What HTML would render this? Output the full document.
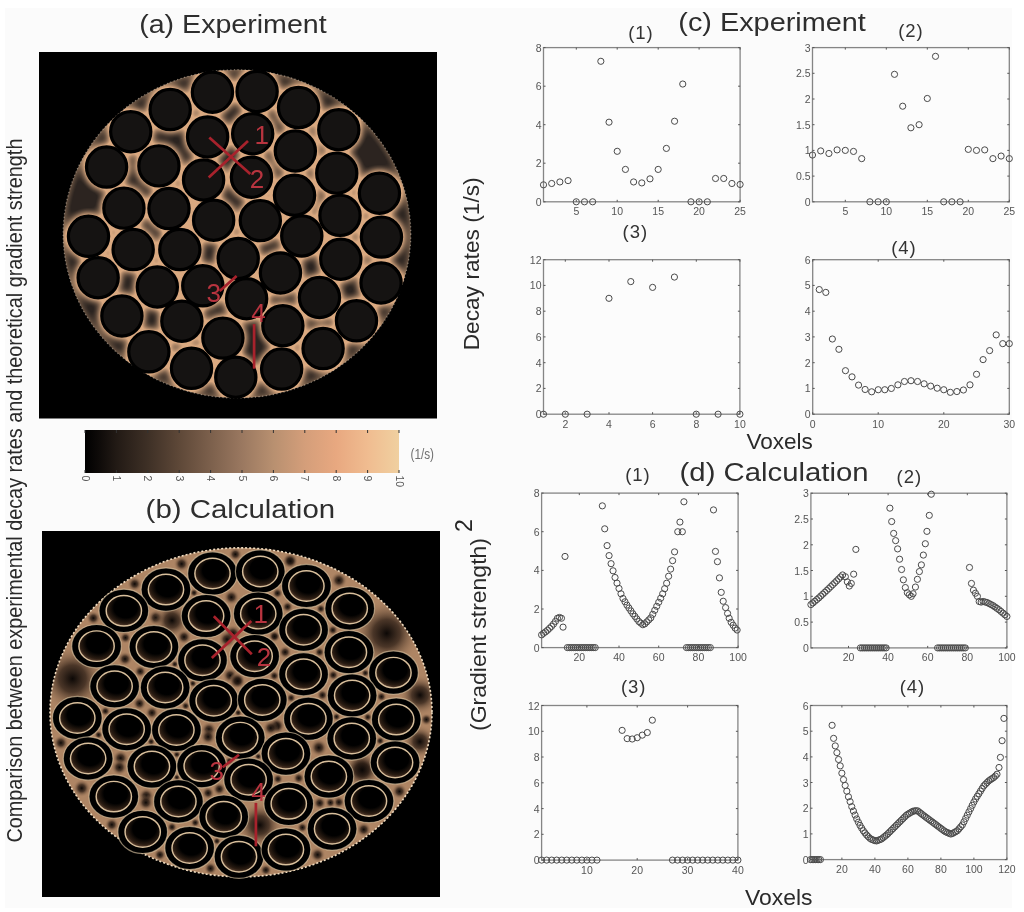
<!DOCTYPE html><html><head><meta charset="utf-8"><style>html,body{margin:0;padding:0;background:#ffffff;width:1024px;height:912px;overflow:hidden}svg{display:block}</style></head><body>
<svg width="1024" height="912" viewBox="0 0 1024 912" font-family="'Liberation Sans', Arial, sans-serif">
<defs>
<linearGradient id="cbar" x1="0" x2="1" y1="0" y2="0">
<stop offset="0" stop-color="#000000"/>
<stop offset="0.05" stop-color="#100c0a"/>
<stop offset="0.1" stop-color="#221a15"/>
<stop offset="0.2" stop-color="#3e3026"/>
<stop offset="0.3" stop-color="#5e4838"/>
<stop offset="0.4" stop-color="#7c604c"/>
<stop offset="0.5" stop-color="#9a7860"/>
<stop offset="0.6" stop-color="#b89070"/>
<stop offset="0.7" stop-color="#d49e7a"/>
<stop offset="0.8" stop-color="#e8a880"/>
<stop offset="0.9" stop-color="#f0bc90"/>
<stop offset="1" stop-color="#f0d0a0"/>
</linearGradient>
<clipPath id="clipA"><ellipse cx="492" cy="452" rx="432" ry="408"/></clipPath>
<clipPath id="clipB"><ellipse cx="496" cy="452" rx="476" ry="410"/></clipPath>
<radialGradient id="innerB" cx="0.55" cy="0.4" r="0.6"><stop offset="0.55" stop-color="#000"/><stop offset="0.85" stop-color="#2a1c12"/><stop offset="1" stop-color="#5a4030"/></radialGradient>
<radialGradient id="spotA"><stop offset="0" stop-color="#1e1a1a" stop-opacity="1"/><stop offset="0.35" stop-color="#3a2a22" stop-opacity="0.85"/><stop offset="1" stop-color="#e2b48a" stop-opacity="0"/></radialGradient>
<radialGradient id="spotB"><stop offset="0" stop-color="#0c0806" stop-opacity="1"/><stop offset="0.4" stop-color="#2a1c14" stop-opacity="0.75"/><stop offset="1" stop-color="#ae8564" stop-opacity="0"/></radialGradient>
<filter id="glowA" x="-5%" y="-5%" width="110%" height="110%" color-interpolation-filters="sRGB"><feGaussianBlur stdDeviation="12"/><feComponentTransfer><feFuncA type="linear" slope="2.2" intercept="-0.1"/></feComponentTransfer></filter>
<filter id="glowB" x="-5%" y="-5%" width="110%" height="110%" color-interpolation-filters="sRGB"><feGaussianBlur stdDeviation="12"/><feComponentTransfer><feFuncA type="linear" slope="2.3" intercept="-0.08"/></feComponentTransfer></filter>
</defs>
<rect width="1024" height="912" fill="#ffffff"/>
<rect x="5" y="8" width="1007" height="900" fill="#fbfbfb"/>
<rect x="39" y="52" width="398" height="366.5" fill="#000"/>
<g transform="translate(39,52) scale(0.40241)">
<ellipse cx="492" cy="452" rx="432" ry="408" fill="#2c2420"/>
<g clip-path="url(#clipA)"><g filter="url(#glowA)">
<ellipse cx="492" cy="452" rx="452" ry="428" fill="none" stroke="#daa980" stroke-width="40" opacity="0.4"/>
<circle cx="431" cy="100" r="54" fill="#daa980"/>
<circle cx="542" cy="98" r="54" fill="#daa980"/>
<circle cx="326" cy="143" r="54" fill="#daa980"/>
<circle cx="645" cy="138" r="54" fill="#daa980"/>
<circle cx="228" cy="198" r="54" fill="#daa980"/>
<circle cx="745" cy="193" r="54" fill="#daa980"/>
<circle cx="419" cy="211" r="54" fill="#daa980"/>
<circle cx="531" cy="203" r="54" fill="#daa980"/>
<circle cx="168" cy="286" r="54" fill="#daa980"/>
<circle cx="298" cy="283" r="54" fill="#daa980"/>
<circle cx="637" cy="246" r="54" fill="#daa980"/>
<circle cx="409" cy="318" r="54" fill="#daa980"/>
<circle cx="528" cy="311" r="54" fill="#daa980"/>
<circle cx="740" cy="301" r="54" fill="#daa980"/>
<circle cx="846" cy="351" r="54" fill="#daa980"/>
<circle cx="211" cy="388" r="54" fill="#daa980"/>
<circle cx="323" cy="389" r="54" fill="#daa980"/>
<circle cx="635" cy="356" r="54" fill="#daa980"/>
<circle cx="434" cy="418" r="54" fill="#daa980"/>
<circle cx="550" cy="419" r="54" fill="#daa980"/>
<circle cx="748" cy="406" r="54" fill="#daa980"/>
<circle cx="123" cy="458" r="54" fill="#daa980"/>
<circle cx="234" cy="491" r="54" fill="#daa980"/>
<circle cx="350" cy="491" r="54" fill="#daa980"/>
<circle cx="653" cy="457" r="54" fill="#daa980"/>
<circle cx="851" cy="460" r="54" fill="#daa980"/>
<circle cx="495" cy="513" r="54" fill="#daa980"/>
<circle cx="147" cy="561" r="54" fill="#daa980"/>
<circle cx="294" cy="584" r="54" fill="#daa980"/>
<circle cx="407" cy="581" r="54" fill="#daa980"/>
<circle cx="600" cy="549" r="54" fill="#daa980"/>
<circle cx="750" cy="515" r="54" fill="#daa980"/>
<circle cx="850" cy="574" r="54" fill="#daa980"/>
<circle cx="516" cy="613" r="54" fill="#daa980"/>
<circle cx="206" cy="656" r="54" fill="#daa980"/>
<circle cx="355" cy="669" r="54" fill="#daa980"/>
<circle cx="697" cy="610" r="54" fill="#daa980"/>
<circle cx="457" cy="711" r="54" fill="#daa980"/>
<circle cx="606" cy="680" r="54" fill="#daa980"/>
<circle cx="789" cy="668" r="54" fill="#daa980"/>
<circle cx="273" cy="745" r="54" fill="#daa980"/>
<circle cx="379" cy="786" r="54" fill="#daa980"/>
<circle cx="489" cy="808" r="54" fill="#daa980"/>
<circle cx="603" cy="788" r="54" fill="#daa980"/>
<circle cx="706" cy="737" r="54" fill="#daa980"/>
</g></g>
<ellipse cx="492" cy="452" rx="432" ry="408" fill="none" stroke="#f4e4d0" stroke-width="3" stroke-dasharray="3 6" opacity="0.45"/>
<circle cx="431" cy="100" r="50" fill="#151312" stroke="#000" stroke-width="8"/>
<circle cx="542" cy="98" r="50" fill="#151312" stroke="#000" stroke-width="8"/>
<circle cx="326" cy="143" r="50" fill="#151312" stroke="#000" stroke-width="8"/>
<circle cx="645" cy="138" r="50" fill="#151312" stroke="#000" stroke-width="8"/>
<circle cx="228" cy="198" r="50" fill="#151312" stroke="#000" stroke-width="8"/>
<circle cx="745" cy="193" r="50" fill="#151312" stroke="#000" stroke-width="8"/>
<circle cx="419" cy="211" r="50" fill="#151312" stroke="#000" stroke-width="8"/>
<circle cx="531" cy="203" r="50" fill="#151312" stroke="#000" stroke-width="8"/>
<circle cx="168" cy="286" r="50" fill="#151312" stroke="#000" stroke-width="8"/>
<circle cx="298" cy="283" r="50" fill="#151312" stroke="#000" stroke-width="8"/>
<circle cx="637" cy="246" r="50" fill="#151312" stroke="#000" stroke-width="8"/>
<circle cx="409" cy="318" r="50" fill="#151312" stroke="#000" stroke-width="8"/>
<circle cx="528" cy="311" r="50" fill="#151312" stroke="#000" stroke-width="8"/>
<circle cx="740" cy="301" r="50" fill="#151312" stroke="#000" stroke-width="8"/>
<circle cx="846" cy="351" r="50" fill="#151312" stroke="#000" stroke-width="8"/>
<circle cx="211" cy="388" r="50" fill="#151312" stroke="#000" stroke-width="8"/>
<circle cx="323" cy="389" r="50" fill="#151312" stroke="#000" stroke-width="8"/>
<circle cx="635" cy="356" r="50" fill="#151312" stroke="#000" stroke-width="8"/>
<circle cx="434" cy="418" r="50" fill="#151312" stroke="#000" stroke-width="8"/>
<circle cx="550" cy="419" r="50" fill="#151312" stroke="#000" stroke-width="8"/>
<circle cx="748" cy="406" r="50" fill="#151312" stroke="#000" stroke-width="8"/>
<circle cx="123" cy="458" r="50" fill="#151312" stroke="#000" stroke-width="8"/>
<circle cx="234" cy="491" r="50" fill="#151312" stroke="#000" stroke-width="8"/>
<circle cx="350" cy="491" r="50" fill="#151312" stroke="#000" stroke-width="8"/>
<circle cx="653" cy="457" r="50" fill="#151312" stroke="#000" stroke-width="8"/>
<circle cx="851" cy="460" r="50" fill="#151312" stroke="#000" stroke-width="8"/>
<circle cx="495" cy="513" r="50" fill="#151312" stroke="#000" stroke-width="8"/>
<circle cx="147" cy="561" r="50" fill="#151312" stroke="#000" stroke-width="8"/>
<circle cx="294" cy="584" r="50" fill="#151312" stroke="#000" stroke-width="8"/>
<circle cx="407" cy="581" r="50" fill="#151312" stroke="#000" stroke-width="8"/>
<circle cx="600" cy="549" r="50" fill="#151312" stroke="#000" stroke-width="8"/>
<circle cx="750" cy="515" r="50" fill="#151312" stroke="#000" stroke-width="8"/>
<circle cx="850" cy="574" r="50" fill="#151312" stroke="#000" stroke-width="8"/>
<circle cx="516" cy="613" r="50" fill="#151312" stroke="#000" stroke-width="8"/>
<circle cx="206" cy="656" r="50" fill="#151312" stroke="#000" stroke-width="8"/>
<circle cx="355" cy="669" r="50" fill="#151312" stroke="#000" stroke-width="8"/>
<circle cx="697" cy="610" r="50" fill="#151312" stroke="#000" stroke-width="8"/>
<circle cx="457" cy="711" r="50" fill="#151312" stroke="#000" stroke-width="8"/>
<circle cx="606" cy="680" r="50" fill="#151312" stroke="#000" stroke-width="8"/>
<circle cx="789" cy="668" r="50" fill="#151312" stroke="#000" stroke-width="8"/>
<circle cx="273" cy="745" r="50" fill="#151312" stroke="#000" stroke-width="8"/>
<circle cx="379" cy="786" r="50" fill="#151312" stroke="#000" stroke-width="8"/>
<circle cx="489" cy="808" r="50" fill="#151312" stroke="#000" stroke-width="8"/>
<circle cx="603" cy="788" r="50" fill="#151312" stroke="#000" stroke-width="8"/>
<circle cx="706" cy="737" r="50" fill="#151312" stroke="#000" stroke-width="8"/>
</g>
<rect x="42" y="531" width="398" height="366" fill="#000"/>
<g transform="translate(42,531) scale(0.40121)">
<ellipse cx="496" cy="452" rx="476" ry="410" fill="#ae8564"/>
<g clip-path="url(#clipB)">
<circle cx="482" cy="58" r="17.4" fill="url(#spotB)"/>
<circle cx="618" cy="74" r="19.1" fill="url(#spotB)"/>
<circle cx="619" cy="75" r="19.1" fill="url(#spotB)"/>
<circle cx="348" cy="82" r="20.1" fill="url(#spotB)"/>
<circle cx="740" cy="123" r="21.2" fill="url(#spotB)"/>
<circle cx="231" cy="132" r="18.7" fill="url(#spotB)"/>
<circle cx="379" cy="154" r="11.1" fill="url(#spotB)"/>
<circle cx="587" cy="155" r="14.3" fill="url(#spotB)"/>
<circle cx="472" cy="165" r="20.0" fill="url(#spotB)"/>
<circle cx="612" cy="189" r="14.7" fill="url(#spotB)"/>
<circle cx="695" cy="194" r="12.7" fill="url(#spotB)"/>
<circle cx="284" cy="216" r="20.7" fill="url(#spotB)"/>
<circle cx="128" cy="217" r="18.1" fill="url(#spotB)"/>
<circle cx="324" cy="223" r="45.0" fill="url(#spotB)"/>
<circle cx="725" cy="247" r="13.5" fill="url(#spotB)"/>
<circle cx="476" cy="255" r="21.5" fill="url(#spotB)"/>
<circle cx="859" cy="255" r="85.2" fill="url(#spotB)"/>
<circle cx="579" cy="262" r="14.3" fill="url(#spotB)"/>
<circle cx="580" cy="263" r="14.3" fill="url(#spotB)"/>
<circle cx="354" cy="264" r="18.7" fill="url(#spotB)"/>
<circle cx="208" cy="266" r="15.2" fill="url(#spotB)"/>
<circle cx="461" cy="270" r="21.7" fill="url(#spotB)"/>
<circle cx="606" cy="302" r="16.5" fill="url(#spotB)"/>
<circle cx="692" cy="302" r="13.5" fill="url(#spotB)"/>
<circle cx="207" cy="319" r="18.7" fill="url(#spotB)"/>
<circle cx="331" cy="332" r="10.3" fill="url(#spotB)"/>
<circle cx="245" cy="350" r="15.8" fill="url(#spotB)"/>
<circle cx="806" cy="354" r="11.1" fill="url(#spotB)"/>
<circle cx="726" cy="359" r="14.0" fill="url(#spotB)"/>
<circle cx="469" cy="360" r="20.0" fill="url(#spotB)"/>
<circle cx="579" cy="361" r="13.5" fill="url(#spotB)"/>
<circle cx="76" cy="368" r="84.4" fill="url(#spotB)"/>
<circle cx="485" cy="372" r="19.5" fill="url(#spotB)"/>
<circle cx="486" cy="373" r="19.5" fill="url(#spotB)"/>
<circle cx="488" cy="374" r="19.5" fill="url(#spotB)"/>
<circle cx="376" cy="380" r="10.3" fill="url(#spotB)"/>
<circle cx="699" cy="409" r="14.7" fill="url(#spotB)"/>
<circle cx="942" cy="409" r="51.6" fill="url(#spotB)"/>
<circle cx="846" cy="413" r="13.5" fill="url(#spotB)"/>
<circle cx="621" cy="416" r="12.7" fill="url(#spotB)"/>
<circle cx="243" cy="430" r="17.5" fill="url(#spotB)"/>
<circle cx="358" cy="436" r="11.5" fill="url(#spotB)"/>
<circle cx="158" cy="449" r="12.7" fill="url(#spotB)"/>
<circle cx="274" cy="453" r="17.1" fill="url(#spotB)"/>
<circle cx="489" cy="453" r="10.3" fill="url(#spotB)"/>
<circle cx="734" cy="463" r="11.1" fill="url(#spotB)"/>
<circle cx="812" cy="464" r="12.0" fill="url(#spotB)"/>
<circle cx="958" cy="470" r="15.6" fill="url(#spotB)"/>
<circle cx="586" cy="485" r="19.5" fill="url(#spotB)"/>
<circle cx="584" cy="486" r="19.5" fill="url(#spotB)"/>
<circle cx="570" cy="491" r="19.8" fill="url(#spotB)"/>
<circle cx="416" cy="495" r="20.1" fill="url(#spotB)"/>
<circle cx="141" cy="508" r="11.3" fill="url(#spotB)"/>
<circle cx="414" cy="513" r="20.1" fill="url(#spotB)"/>
<circle cx="843" cy="523" r="11.5" fill="url(#spotB)"/>
<circle cx="272" cy="525" r="10.7" fill="url(#spotB)"/>
<circle cx="942" cy="525" r="42.0" fill="url(#spotB)"/>
<circle cx="47" cy="528" r="19.5" fill="url(#spotB)"/>
<circle cx="690" cy="540" r="22.4" fill="url(#spotB)"/>
<circle cx="336" cy="557" r="10.2" fill="url(#spotB)"/>
<circle cx="539" cy="562" r="10.0" fill="url(#spotB)"/>
<circle cx="196" cy="566" r="20.5" fill="url(#spotB)"/>
<circle cx="467" cy="573" r="11.0" fill="url(#spotB)"/>
<circle cx="193" cy="589" r="20.9" fill="url(#spotB)"/>
<circle cx="797" cy="592" r="43.3" fill="url(#spotB)"/>
<circle cx="798" cy="596" r="43.3" fill="url(#spotB)"/>
<circle cx="336" cy="614" r="9.3" fill="url(#spotB)"/>
<circle cx="640" cy="616" r="15.1" fill="url(#spotB)"/>
<circle cx="588" cy="618" r="13.5" fill="url(#spotB)"/>
<circle cx="99" cy="641" r="22.4" fill="url(#spotB)"/>
<circle cx="442" cy="643" r="17.0" fill="url(#spotB)"/>
<circle cx="891" cy="649" r="19.8" fill="url(#spotB)"/>
<circle cx="414" cy="653" r="16.3" fill="url(#spotB)"/>
<circle cx="260" cy="660" r="20.7" fill="url(#spotB)"/>
<circle cx="740" cy="676" r="15.5" fill="url(#spotB)"/>
<circle cx="259" cy="677" r="20.9" fill="url(#spotB)"/>
<circle cx="719" cy="677" r="13.8" fill="url(#spotB)"/>
<circle cx="692" cy="678" r="16.8" fill="url(#spotB)"/>
<circle cx="382" cy="727" r="12.4" fill="url(#spotB)"/>
<circle cx="174" cy="732" r="18.3" fill="url(#spotB)"/>
<circle cx="543" cy="733" r="57.9" fill="url(#spotB)"/>
<circle cx="324" cy="738" r="13.3" fill="url(#spotB)"/>
<circle cx="649" cy="739" r="14.0" fill="url(#spotB)"/>
<circle cx="802" cy="744" r="19.0" fill="url(#spotB)"/>
<circle cx="436" cy="773" r="10.6" fill="url(#spotB)"/>
<circle cx="294" cy="807" r="16.1" fill="url(#spotB)"/>
<circle cx="687" cy="807" r="19.6" fill="url(#spotB)"/>
<circle cx="420" cy="841" r="16.7" fill="url(#spotB)"/>
<circle cx="558" cy="845" r="15.5" fill="url(#spotB)"/>
</g>
<ellipse cx="496" cy="452" rx="476" ry="410" fill="none" stroke="#f0dcc0" stroke-width="4" stroke-dasharray="5 5"/>
<ellipse cx="425" cy="106" rx="62" ry="54" fill="#000" stroke="#e8d0ac" stroke-width="3" stroke-opacity="0.6"/>
<ellipse cx="544" cy="101" rx="62" ry="54" fill="#000" stroke="#e8d0ac" stroke-width="3" stroke-opacity="0.6"/>
<ellipse cx="309" cy="146" rx="62" ry="54" fill="#000" stroke="#e8d0ac" stroke-width="3" stroke-opacity="0.6"/>
<ellipse cx="659" cy="137" rx="62" ry="54" fill="#000" stroke="#e8d0ac" stroke-width="3" stroke-opacity="0.6"/>
<ellipse cx="204" cy="199" rx="62" ry="54" fill="#000" stroke="#e8d0ac" stroke-width="3" stroke-opacity="0.6"/>
<ellipse cx="767" cy="193" rx="62" ry="54" fill="#000" stroke="#e8d0ac" stroke-width="3" stroke-opacity="0.6"/>
<ellipse cx="409" cy="212" rx="62" ry="54" fill="#000" stroke="#e8d0ac" stroke-width="3" stroke-opacity="0.6"/>
<ellipse cx="539" cy="206" rx="62" ry="54" fill="#000" stroke="#e8d0ac" stroke-width="3" stroke-opacity="0.6"/>
<ellipse cx="136" cy="287" rx="62" ry="54" fill="#000" stroke="#e8d0ac" stroke-width="3" stroke-opacity="0.6"/>
<ellipse cx="279" cy="289" rx="62" ry="54" fill="#000" stroke="#e8d0ac" stroke-width="3" stroke-opacity="0.6"/>
<ellipse cx="652" cy="246" rx="62" ry="54" fill="#000" stroke="#e8d0ac" stroke-width="3" stroke-opacity="0.6"/>
<ellipse cx="400" cy="322" rx="62" ry="54" fill="#000" stroke="#e8d0ac" stroke-width="3" stroke-opacity="0.6"/>
<ellipse cx="530" cy="312" rx="62" ry="54" fill="#000" stroke="#e8d0ac" stroke-width="3" stroke-opacity="0.6"/>
<ellipse cx="765" cy="302" rx="62" ry="54" fill="#000" stroke="#e8d0ac" stroke-width="3" stroke-opacity="0.6"/>
<ellipse cx="876" cy="353" rx="62" ry="54" fill="#000" stroke="#e8d0ac" stroke-width="3" stroke-opacity="0.6"/>
<ellipse cx="181" cy="387" rx="62" ry="54" fill="#000" stroke="#e8d0ac" stroke-width="3" stroke-opacity="0.6"/>
<ellipse cx="307" cy="390" rx="62" ry="54" fill="#000" stroke="#e8d0ac" stroke-width="3" stroke-opacity="0.6"/>
<ellipse cx="652" cy="357" rx="62" ry="54" fill="#000" stroke="#e8d0ac" stroke-width="3" stroke-opacity="0.6"/>
<ellipse cx="428" cy="423" rx="62" ry="54" fill="#000" stroke="#e8d0ac" stroke-width="3" stroke-opacity="0.6"/>
<ellipse cx="549" cy="421" rx="62" ry="54" fill="#000" stroke="#e8d0ac" stroke-width="3" stroke-opacity="0.6"/>
<ellipse cx="773" cy="410" rx="62" ry="54" fill="#000" stroke="#e8d0ac" stroke-width="3" stroke-opacity="0.6"/>
<ellipse cx="88" cy="466" rx="62" ry="54" fill="#000" stroke="#e8d0ac" stroke-width="3" stroke-opacity="0.6"/>
<ellipse cx="211" cy="494" rx="62" ry="54" fill="#000" stroke="#e8d0ac" stroke-width="3" stroke-opacity="0.6"/>
<ellipse cx="335" cy="496" rx="62" ry="54" fill="#000" stroke="#e8d0ac" stroke-width="3" stroke-opacity="0.6"/>
<ellipse cx="664" cy="468" rx="62" ry="54" fill="#000" stroke="#e8d0ac" stroke-width="3" stroke-opacity="0.6"/>
<ellipse cx="883" cy="470" rx="62" ry="54" fill="#000" stroke="#e8d0ac" stroke-width="3" stroke-opacity="0.6"/>
<ellipse cx="494" cy="515" rx="62" ry="54" fill="#000" stroke="#e8d0ac" stroke-width="3" stroke-opacity="0.6"/>
<ellipse cx="115" cy="567" rx="62" ry="54" fill="#000" stroke="#e8d0ac" stroke-width="3" stroke-opacity="0.6"/>
<ellipse cx="274" cy="587" rx="62" ry="54" fill="#000" stroke="#e8d0ac" stroke-width="3" stroke-opacity="0.6"/>
<ellipse cx="398" cy="586" rx="62" ry="54" fill="#000" stroke="#e8d0ac" stroke-width="3" stroke-opacity="0.6"/>
<ellipse cx="608" cy="555" rx="62" ry="54" fill="#000" stroke="#e8d0ac" stroke-width="3" stroke-opacity="0.6"/>
<ellipse cx="772" cy="517" rx="62" ry="54" fill="#000" stroke="#e8d0ac" stroke-width="3" stroke-opacity="0.6"/>
<ellipse cx="880" cy="577" rx="62" ry="54" fill="#000" stroke="#e8d0ac" stroke-width="3" stroke-opacity="0.6"/>
<ellipse cx="515" cy="620" rx="62" ry="54" fill="#000" stroke="#e8d0ac" stroke-width="3" stroke-opacity="0.6"/>
<ellipse cx="179" cy="662" rx="62" ry="54" fill="#000" stroke="#e8d0ac" stroke-width="3" stroke-opacity="0.6"/>
<ellipse cx="340" cy="674" rx="62" ry="54" fill="#000" stroke="#e8d0ac" stroke-width="3" stroke-opacity="0.6"/>
<ellipse cx="715" cy="612" rx="62" ry="54" fill="#000" stroke="#e8d0ac" stroke-width="3" stroke-opacity="0.6"/>
<ellipse cx="453" cy="712" rx="62" ry="54" fill="#000" stroke="#e8d0ac" stroke-width="3" stroke-opacity="0.6"/>
<ellipse cx="615" cy="680" rx="62" ry="54" fill="#000" stroke="#e8d0ac" stroke-width="3" stroke-opacity="0.6"/>
<ellipse cx="815" cy="673" rx="62" ry="54" fill="#000" stroke="#e8d0ac" stroke-width="3" stroke-opacity="0.6"/>
<ellipse cx="251" cy="750" rx="62" ry="54" fill="#000" stroke="#e8d0ac" stroke-width="3" stroke-opacity="0.6"/>
<ellipse cx="368" cy="790" rx="62" ry="54" fill="#000" stroke="#e8d0ac" stroke-width="3" stroke-opacity="0.6"/>
<ellipse cx="491" cy="812" rx="62" ry="54" fill="#000" stroke="#e8d0ac" stroke-width="3" stroke-opacity="0.6"/>
<ellipse cx="608" cy="794" rx="62" ry="54" fill="#000" stroke="#e8d0ac" stroke-width="3" stroke-opacity="0.6"/>
<ellipse cx="723" cy="742" rx="62" ry="54" fill="#000" stroke="#e8d0ac" stroke-width="3" stroke-opacity="0.6"/>
<ellipse cx="425" cy="106" rx="44" ry="38" fill="url(#innerB)" stroke="#d8bf9c" stroke-width="3.6"/>
<ellipse cx="544" cy="101" rx="44" ry="38" fill="url(#innerB)" stroke="#d8bf9c" stroke-width="3.6"/>
<ellipse cx="309" cy="146" rx="44" ry="38" fill="url(#innerB)" stroke="#d8bf9c" stroke-width="3.6"/>
<ellipse cx="659" cy="137" rx="44" ry="38" fill="url(#innerB)" stroke="#d8bf9c" stroke-width="3.6"/>
<ellipse cx="204" cy="199" rx="44" ry="38" fill="url(#innerB)" stroke="#d8bf9c" stroke-width="3.6"/>
<ellipse cx="767" cy="193" rx="44" ry="38" fill="url(#innerB)" stroke="#d8bf9c" stroke-width="3.6"/>
<ellipse cx="409" cy="212" rx="44" ry="38" fill="url(#innerB)" stroke="#d8bf9c" stroke-width="3.6"/>
<ellipse cx="539" cy="206" rx="44" ry="38" fill="url(#innerB)" stroke="#d8bf9c" stroke-width="3.6"/>
<ellipse cx="136" cy="287" rx="44" ry="38" fill="url(#innerB)" stroke="#d8bf9c" stroke-width="3.6"/>
<ellipse cx="279" cy="289" rx="44" ry="38" fill="url(#innerB)" stroke="#d8bf9c" stroke-width="3.6"/>
<ellipse cx="652" cy="246" rx="44" ry="38" fill="url(#innerB)" stroke="#d8bf9c" stroke-width="3.6"/>
<ellipse cx="400" cy="322" rx="44" ry="38" fill="url(#innerB)" stroke="#d8bf9c" stroke-width="3.6"/>
<ellipse cx="530" cy="312" rx="44" ry="38" fill="url(#innerB)" stroke="#d8bf9c" stroke-width="3.6"/>
<ellipse cx="765" cy="302" rx="44" ry="38" fill="url(#innerB)" stroke="#d8bf9c" stroke-width="3.6"/>
<ellipse cx="876" cy="353" rx="44" ry="38" fill="url(#innerB)" stroke="#d8bf9c" stroke-width="3.6"/>
<ellipse cx="181" cy="387" rx="44" ry="38" fill="url(#innerB)" stroke="#d8bf9c" stroke-width="3.6"/>
<ellipse cx="307" cy="390" rx="44" ry="38" fill="url(#innerB)" stroke="#d8bf9c" stroke-width="3.6"/>
<ellipse cx="652" cy="357" rx="44" ry="38" fill="url(#innerB)" stroke="#d8bf9c" stroke-width="3.6"/>
<ellipse cx="428" cy="423" rx="44" ry="38" fill="url(#innerB)" stroke="#d8bf9c" stroke-width="3.6"/>
<ellipse cx="549" cy="421" rx="44" ry="38" fill="url(#innerB)" stroke="#d8bf9c" stroke-width="3.6"/>
<ellipse cx="773" cy="410" rx="44" ry="38" fill="url(#innerB)" stroke="#d8bf9c" stroke-width="3.6"/>
<ellipse cx="88" cy="466" rx="44" ry="38" fill="url(#innerB)" stroke="#d8bf9c" stroke-width="3.6"/>
<ellipse cx="211" cy="494" rx="44" ry="38" fill="url(#innerB)" stroke="#d8bf9c" stroke-width="3.6"/>
<ellipse cx="335" cy="496" rx="44" ry="38" fill="url(#innerB)" stroke="#d8bf9c" stroke-width="3.6"/>
<ellipse cx="664" cy="468" rx="44" ry="38" fill="url(#innerB)" stroke="#d8bf9c" stroke-width="3.6"/>
<ellipse cx="883" cy="470" rx="44" ry="38" fill="url(#innerB)" stroke="#d8bf9c" stroke-width="3.6"/>
<ellipse cx="494" cy="515" rx="44" ry="38" fill="url(#innerB)" stroke="#d8bf9c" stroke-width="3.6"/>
<ellipse cx="115" cy="567" rx="44" ry="38" fill="url(#innerB)" stroke="#d8bf9c" stroke-width="3.6"/>
<ellipse cx="274" cy="587" rx="44" ry="38" fill="url(#innerB)" stroke="#d8bf9c" stroke-width="3.6"/>
<ellipse cx="398" cy="586" rx="44" ry="38" fill="url(#innerB)" stroke="#d8bf9c" stroke-width="3.6"/>
<ellipse cx="608" cy="555" rx="44" ry="38" fill="url(#innerB)" stroke="#d8bf9c" stroke-width="3.6"/>
<ellipse cx="772" cy="517" rx="44" ry="38" fill="url(#innerB)" stroke="#d8bf9c" stroke-width="3.6"/>
<ellipse cx="880" cy="577" rx="44" ry="38" fill="url(#innerB)" stroke="#d8bf9c" stroke-width="3.6"/>
<ellipse cx="515" cy="620" rx="44" ry="38" fill="url(#innerB)" stroke="#d8bf9c" stroke-width="3.6"/>
<ellipse cx="179" cy="662" rx="44" ry="38" fill="url(#innerB)" stroke="#d8bf9c" stroke-width="3.6"/>
<ellipse cx="340" cy="674" rx="44" ry="38" fill="url(#innerB)" stroke="#d8bf9c" stroke-width="3.6"/>
<ellipse cx="715" cy="612" rx="44" ry="38" fill="url(#innerB)" stroke="#d8bf9c" stroke-width="3.6"/>
<ellipse cx="453" cy="712" rx="44" ry="38" fill="url(#innerB)" stroke="#d8bf9c" stroke-width="3.6"/>
<ellipse cx="615" cy="680" rx="44" ry="38" fill="url(#innerB)" stroke="#d8bf9c" stroke-width="3.6"/>
<ellipse cx="815" cy="673" rx="44" ry="38" fill="url(#innerB)" stroke="#d8bf9c" stroke-width="3.6"/>
<ellipse cx="251" cy="750" rx="44" ry="38" fill="url(#innerB)" stroke="#d8bf9c" stroke-width="3.6"/>
<ellipse cx="368" cy="790" rx="44" ry="38" fill="url(#innerB)" stroke="#d8bf9c" stroke-width="3.6"/>
<ellipse cx="491" cy="812" rx="44" ry="38" fill="url(#innerB)" stroke="#d8bf9c" stroke-width="3.6"/>
<ellipse cx="608" cy="794" rx="44" ry="38" fill="url(#innerB)" stroke="#d8bf9c" stroke-width="3.6"/>
<ellipse cx="723" cy="742" rx="44" ry="38" fill="url(#innerB)" stroke="#d8bf9c" stroke-width="3.6"/>
</g>
<line x1="209.3" y1="137.5" x2="250.3" y2="173.9" stroke="#a8222c" stroke-width="2.7"/>
<line x1="208.7" y1="177.4" x2="248" y2="141" stroke="#a8222c" stroke-width="2.7"/>
<line x1="219.7" y1="290.9" x2="236.6" y2="275.9" stroke="#a8222c" stroke-width="2.7"/>
<line x1="254.1" y1="324.1" x2="254.1" y2="368.7" stroke="#a8222c" stroke-width="2.7"/>
<line x1="213.8" y1="616.2" x2="251.8" y2="654.2" stroke="#a8222c" stroke-width="2.7"/>
<line x1="211.8" y1="658.1" x2="251.3" y2="621.1" stroke="#a8222c" stroke-width="2.7"/>
<line x1="222.7" y1="767.3" x2="239" y2="754.7" stroke="#a8222c" stroke-width="2.7"/>
<line x1="255.9" y1="802.9" x2="255.9" y2="846.3" stroke="#a8222c" stroke-width="2.7"/>
<text x="254.5" y="144" font-size="26" fill="#b8343f">1</text>
<text x="249.8" y="188" font-size="26" fill="#b8343f">2</text>
<text x="206.6" y="301.8" font-size="26" fill="#b8343f">3</text>
<text x="251.2" y="321.7" font-size="26" fill="#b8343f">4</text>
<text x="253.5" y="623.1" font-size="26" fill="#b8343f">1</text>
<text x="256.7" y="666" font-size="26" fill="#b8343f">2</text>
<text x="209.6" y="780" font-size="26" fill="#b8343f">3</text>
<text x="251.2" y="801" font-size="26" fill="#b8343f">4</text>
<rect x="85" y="430" width="314" height="43" fill="url(#cbar)"/>
<line x1="85.0" y1="430" x2="85.0" y2="433" stroke="#333" stroke-width="1"/>
<line x1="85.0" y1="473" x2="85.0" y2="470" stroke="#333" stroke-width="1"/>
<text transform="translate(81.5,475.5) rotate(90)" font-size="10.5" fill="#555">0</text>
<line x1="116.4" y1="430" x2="116.4" y2="433" stroke="#333" stroke-width="1"/>
<line x1="116.4" y1="473" x2="116.4" y2="470" stroke="#333" stroke-width="1"/>
<text transform="translate(112.9,475.5) rotate(90)" font-size="10.5" fill="#555">1</text>
<line x1="147.8" y1="430" x2="147.8" y2="433" stroke="#333" stroke-width="1"/>
<line x1="147.8" y1="473" x2="147.8" y2="470" stroke="#333" stroke-width="1"/>
<text transform="translate(144.3,475.5) rotate(90)" font-size="10.5" fill="#555">2</text>
<line x1="179.2" y1="430" x2="179.2" y2="433" stroke="#333" stroke-width="1"/>
<line x1="179.2" y1="473" x2="179.2" y2="470" stroke="#333" stroke-width="1"/>
<text transform="translate(175.7,475.5) rotate(90)" font-size="10.5" fill="#555">3</text>
<line x1="210.6" y1="430" x2="210.6" y2="433" stroke="#333" stroke-width="1"/>
<line x1="210.6" y1="473" x2="210.6" y2="470" stroke="#333" stroke-width="1"/>
<text transform="translate(207.1,475.5) rotate(90)" font-size="10.5" fill="#555">4</text>
<line x1="242.0" y1="430" x2="242.0" y2="433" stroke="#333" stroke-width="1"/>
<line x1="242.0" y1="473" x2="242.0" y2="470" stroke="#333" stroke-width="1"/>
<text transform="translate(238.5,475.5) rotate(90)" font-size="10.5" fill="#555">5</text>
<line x1="273.4" y1="430" x2="273.4" y2="433" stroke="#333" stroke-width="1"/>
<line x1="273.4" y1="473" x2="273.4" y2="470" stroke="#333" stroke-width="1"/>
<text transform="translate(269.9,475.5) rotate(90)" font-size="10.5" fill="#555">6</text>
<line x1="304.8" y1="430" x2="304.8" y2="433" stroke="#333" stroke-width="1"/>
<line x1="304.8" y1="473" x2="304.8" y2="470" stroke="#333" stroke-width="1"/>
<text transform="translate(301.3,475.5) rotate(90)" font-size="10.5" fill="#555">7</text>
<line x1="336.2" y1="430" x2="336.2" y2="433" stroke="#333" stroke-width="1"/>
<line x1="336.2" y1="473" x2="336.2" y2="470" stroke="#333" stroke-width="1"/>
<text transform="translate(332.7,475.5) rotate(90)" font-size="10.5" fill="#555">8</text>
<line x1="367.6" y1="430" x2="367.6" y2="433" stroke="#333" stroke-width="1"/>
<line x1="367.6" y1="473" x2="367.6" y2="470" stroke="#333" stroke-width="1"/>
<text transform="translate(364.1,475.5) rotate(90)" font-size="10.5" fill="#555">9</text>
<line x1="399.0" y1="430" x2="399.0" y2="433" stroke="#333" stroke-width="1"/>
<line x1="399.0" y1="473" x2="399.0" y2="470" stroke="#333" stroke-width="1"/>
<text transform="translate(395.5,475.5) rotate(90)" font-size="10.5" fill="#555">10</text>
<text x="410.5" y="458.5" font-size="15" fill="#707070" textLength="23.5" lengthAdjust="spacingAndGlyphs">(1/s)</text>
<rect x="543.5" y="47.6" width="196.6" height="154.2" fill="#fcfcfc" stroke="#858585" stroke-width="1.3"/>
<line x1="576.3" y1="201.8" x2="576.3" y2="199.8" stroke="#555" stroke-width="1"/>
<line x1="576.3" y1="47.6" x2="576.3" y2="49.6" stroke="#555" stroke-width="1"/>
<text x="576.3" y="215.3" font-size="10.5" fill="#555" text-anchor="middle">5</text>
<line x1="617.2" y1="201.8" x2="617.2" y2="199.8" stroke="#555" stroke-width="1"/>
<line x1="617.2" y1="47.6" x2="617.2" y2="49.6" stroke="#555" stroke-width="1"/>
<text x="617.2" y="215.3" font-size="10.5" fill="#555" text-anchor="middle">10</text>
<line x1="658.2" y1="201.8" x2="658.2" y2="199.8" stroke="#555" stroke-width="1"/>
<line x1="658.2" y1="47.6" x2="658.2" y2="49.6" stroke="#555" stroke-width="1"/>
<text x="658.2" y="215.3" font-size="10.5" fill="#555" text-anchor="middle">15</text>
<line x1="699.1" y1="201.8" x2="699.1" y2="199.8" stroke="#555" stroke-width="1"/>
<line x1="699.1" y1="47.6" x2="699.1" y2="49.6" stroke="#555" stroke-width="1"/>
<text x="699.1" y="215.3" font-size="10.5" fill="#555" text-anchor="middle">20</text>
<line x1="740.1" y1="201.8" x2="740.1" y2="199.8" stroke="#555" stroke-width="1"/>
<line x1="740.1" y1="47.6" x2="740.1" y2="49.6" stroke="#555" stroke-width="1"/>
<text x="740.1" y="215.3" font-size="10.5" fill="#555" text-anchor="middle">25</text>
<line x1="543.5" y1="201.8" x2="545.5" y2="201.8" stroke="#555" stroke-width="1"/>
<line x1="740.1" y1="201.8" x2="738.1" y2="201.8" stroke="#555" stroke-width="1"/>
<text x="541.5" y="205.8" font-size="10.5" fill="#555" text-anchor="end">0</text>
<line x1="543.5" y1="163.2" x2="545.5" y2="163.2" stroke="#555" stroke-width="1"/>
<line x1="740.1" y1="163.2" x2="738.1" y2="163.2" stroke="#555" stroke-width="1"/>
<text x="541.5" y="167.2" font-size="10.5" fill="#555" text-anchor="end">2</text>
<line x1="543.5" y1="124.7" x2="545.5" y2="124.7" stroke="#555" stroke-width="1"/>
<line x1="740.1" y1="124.7" x2="738.1" y2="124.7" stroke="#555" stroke-width="1"/>
<text x="541.5" y="128.7" font-size="10.5" fill="#555" text-anchor="end">4</text>
<line x1="543.5" y1="86.2" x2="545.5" y2="86.2" stroke="#555" stroke-width="1"/>
<line x1="740.1" y1="86.2" x2="738.1" y2="86.2" stroke="#555" stroke-width="1"/>
<text x="541.5" y="90.2" font-size="10.5" fill="#555" text-anchor="end">6</text>
<line x1="543.5" y1="47.6" x2="545.5" y2="47.6" stroke="#555" stroke-width="1"/>
<line x1="740.1" y1="47.6" x2="738.1" y2="47.6" stroke="#555" stroke-width="1"/>
<text x="541.5" y="51.6" font-size="10.5" fill="#555" text-anchor="end">8</text>
<circle cx="543.50" cy="184.84" r="3.1" fill="none" stroke="#4a4a4a" stroke-width="1"/>
<circle cx="551.69" cy="183.49" r="3.1" fill="none" stroke="#4a4a4a" stroke-width="1"/>
<circle cx="559.88" cy="181.95" r="3.1" fill="none" stroke="#4a4a4a" stroke-width="1"/>
<circle cx="568.08" cy="180.60" r="3.1" fill="none" stroke="#4a4a4a" stroke-width="1"/>
<circle cx="576.27" cy="201.80" r="3.1" fill="none" stroke="#4a4a4a" stroke-width="1"/>
<circle cx="584.46" cy="201.80" r="3.1" fill="none" stroke="#4a4a4a" stroke-width="1"/>
<circle cx="592.65" cy="201.80" r="3.1" fill="none" stroke="#4a4a4a" stroke-width="1"/>
<circle cx="600.84" cy="61.29" r="3.1" fill="none" stroke="#4a4a4a" stroke-width="1"/>
<circle cx="609.03" cy="122.19" r="3.1" fill="none" stroke="#4a4a4a" stroke-width="1"/>
<circle cx="617.23" cy="151.30" r="3.1" fill="none" stroke="#4a4a4a" stroke-width="1"/>
<circle cx="625.42" cy="169.42" r="3.1" fill="none" stroke="#4a4a4a" stroke-width="1"/>
<circle cx="633.61" cy="181.95" r="3.1" fill="none" stroke="#4a4a4a" stroke-width="1"/>
<circle cx="641.80" cy="182.91" r="3.1" fill="none" stroke="#4a4a4a" stroke-width="1"/>
<circle cx="649.99" cy="178.86" r="3.1" fill="none" stroke="#4a4a4a" stroke-width="1"/>
<circle cx="658.18" cy="169.42" r="3.1" fill="none" stroke="#4a4a4a" stroke-width="1"/>
<circle cx="666.38" cy="148.41" r="3.1" fill="none" stroke="#4a4a4a" stroke-width="1"/>
<circle cx="674.57" cy="121.23" r="3.1" fill="none" stroke="#4a4a4a" stroke-width="1"/>
<circle cx="682.76" cy="84.03" r="3.1" fill="none" stroke="#4a4a4a" stroke-width="1"/>
<circle cx="690.95" cy="201.80" r="3.1" fill="none" stroke="#4a4a4a" stroke-width="1"/>
<circle cx="699.14" cy="201.80" r="3.1" fill="none" stroke="#4a4a4a" stroke-width="1"/>
<circle cx="707.33" cy="201.80" r="3.1" fill="none" stroke="#4a4a4a" stroke-width="1"/>
<circle cx="715.53" cy="178.48" r="3.1" fill="none" stroke="#4a4a4a" stroke-width="1"/>
<circle cx="723.72" cy="178.48" r="3.1" fill="none" stroke="#4a4a4a" stroke-width="1"/>
<circle cx="731.91" cy="183.49" r="3.1" fill="none" stroke="#4a4a4a" stroke-width="1"/>
<circle cx="740.10" cy="184.45" r="3.1" fill="none" stroke="#4a4a4a" stroke-width="1"/>
<rect x="812.5" y="47.6" width="196.8" height="154.2" fill="#fcfcfc" stroke="#858585" stroke-width="1.3"/>
<line x1="845.3" y1="201.8" x2="845.3" y2="199.8" stroke="#555" stroke-width="1"/>
<line x1="845.3" y1="47.6" x2="845.3" y2="49.6" stroke="#555" stroke-width="1"/>
<text x="845.3" y="215.3" font-size="10.5" fill="#555" text-anchor="middle">5</text>
<line x1="886.3" y1="201.8" x2="886.3" y2="199.8" stroke="#555" stroke-width="1"/>
<line x1="886.3" y1="47.6" x2="886.3" y2="49.6" stroke="#555" stroke-width="1"/>
<text x="886.3" y="215.3" font-size="10.5" fill="#555" text-anchor="middle">10</text>
<line x1="927.3" y1="201.8" x2="927.3" y2="199.8" stroke="#555" stroke-width="1"/>
<line x1="927.3" y1="47.6" x2="927.3" y2="49.6" stroke="#555" stroke-width="1"/>
<text x="927.3" y="215.3" font-size="10.5" fill="#555" text-anchor="middle">15</text>
<line x1="968.3" y1="201.8" x2="968.3" y2="199.8" stroke="#555" stroke-width="1"/>
<line x1="968.3" y1="47.6" x2="968.3" y2="49.6" stroke="#555" stroke-width="1"/>
<text x="968.3" y="215.3" font-size="10.5" fill="#555" text-anchor="middle">20</text>
<line x1="1009.3" y1="201.8" x2="1009.3" y2="199.8" stroke="#555" stroke-width="1"/>
<line x1="1009.3" y1="47.6" x2="1009.3" y2="49.6" stroke="#555" stroke-width="1"/>
<text x="1009.3" y="215.3" font-size="10.5" fill="#555" text-anchor="middle">25</text>
<line x1="812.5" y1="201.8" x2="814.5" y2="201.8" stroke="#555" stroke-width="1"/>
<line x1="1009.3" y1="201.8" x2="1007.3" y2="201.8" stroke="#555" stroke-width="1"/>
<text x="810.5" y="205.8" font-size="10.5" fill="#555" text-anchor="end">0</text>
<line x1="812.5" y1="176.1" x2="814.5" y2="176.1" stroke="#555" stroke-width="1"/>
<line x1="1009.3" y1="176.1" x2="1007.3" y2="176.1" stroke="#555" stroke-width="1"/>
<text x="810.5" y="180.1" font-size="10.5" fill="#555" text-anchor="end">0.5</text>
<line x1="812.5" y1="150.4" x2="814.5" y2="150.4" stroke="#555" stroke-width="1"/>
<line x1="1009.3" y1="150.4" x2="1007.3" y2="150.4" stroke="#555" stroke-width="1"/>
<text x="810.5" y="154.4" font-size="10.5" fill="#555" text-anchor="end">1</text>
<line x1="812.5" y1="124.7" x2="814.5" y2="124.7" stroke="#555" stroke-width="1"/>
<line x1="1009.3" y1="124.7" x2="1007.3" y2="124.7" stroke="#555" stroke-width="1"/>
<text x="810.5" y="128.7" font-size="10.5" fill="#555" text-anchor="end">1.5</text>
<line x1="812.5" y1="99.0" x2="814.5" y2="99.0" stroke="#555" stroke-width="1"/>
<line x1="1009.3" y1="99.0" x2="1007.3" y2="99.0" stroke="#555" stroke-width="1"/>
<text x="810.5" y="103.0" font-size="10.5" fill="#555" text-anchor="end">2</text>
<line x1="812.5" y1="73.3" x2="814.5" y2="73.3" stroke="#555" stroke-width="1"/>
<line x1="1009.3" y1="73.3" x2="1007.3" y2="73.3" stroke="#555" stroke-width="1"/>
<text x="810.5" y="77.3" font-size="10.5" fill="#555" text-anchor="end">2.5</text>
<line x1="812.5" y1="47.6" x2="814.5" y2="47.6" stroke="#555" stroke-width="1"/>
<line x1="1009.3" y1="47.6" x2="1007.3" y2="47.6" stroke="#555" stroke-width="1"/>
<text x="810.5" y="51.6" font-size="10.5" fill="#555" text-anchor="end">3</text>
<circle cx="812.50" cy="155.03" r="3.1" fill="none" stroke="#4a4a4a" stroke-width="1"/>
<circle cx="820.70" cy="150.91" r="3.1" fill="none" stroke="#4a4a4a" stroke-width="1"/>
<circle cx="828.90" cy="153.48" r="3.1" fill="none" stroke="#4a4a4a" stroke-width="1"/>
<circle cx="837.10" cy="149.89" r="3.1" fill="none" stroke="#4a4a4a" stroke-width="1"/>
<circle cx="845.30" cy="150.40" r="3.1" fill="none" stroke="#4a4a4a" stroke-width="1"/>
<circle cx="853.50" cy="151.43" r="3.1" fill="none" stroke="#4a4a4a" stroke-width="1"/>
<circle cx="861.70" cy="158.62" r="3.1" fill="none" stroke="#4a4a4a" stroke-width="1"/>
<circle cx="869.90" cy="201.80" r="3.1" fill="none" stroke="#4a4a4a" stroke-width="1"/>
<circle cx="878.10" cy="201.80" r="3.1" fill="none" stroke="#4a4a4a" stroke-width="1"/>
<circle cx="886.30" cy="201.80" r="3.1" fill="none" stroke="#4a4a4a" stroke-width="1"/>
<circle cx="894.50" cy="74.33" r="3.1" fill="none" stroke="#4a4a4a" stroke-width="1"/>
<circle cx="902.70" cy="106.20" r="3.1" fill="none" stroke="#4a4a4a" stroke-width="1"/>
<circle cx="910.90" cy="127.78" r="3.1" fill="none" stroke="#4a4a4a" stroke-width="1"/>
<circle cx="919.10" cy="124.70" r="3.1" fill="none" stroke="#4a4a4a" stroke-width="1"/>
<circle cx="927.30" cy="98.49" r="3.1" fill="none" stroke="#4a4a4a" stroke-width="1"/>
<circle cx="935.50" cy="56.34" r="3.1" fill="none" stroke="#4a4a4a" stroke-width="1"/>
<circle cx="943.70" cy="201.80" r="3.1" fill="none" stroke="#4a4a4a" stroke-width="1"/>
<circle cx="951.90" cy="201.80" r="3.1" fill="none" stroke="#4a4a4a" stroke-width="1"/>
<circle cx="960.10" cy="201.80" r="3.1" fill="none" stroke="#4a4a4a" stroke-width="1"/>
<circle cx="968.30" cy="149.37" r="3.1" fill="none" stroke="#4a4a4a" stroke-width="1"/>
<circle cx="976.50" cy="150.40" r="3.1" fill="none" stroke="#4a4a4a" stroke-width="1"/>
<circle cx="984.70" cy="149.89" r="3.1" fill="none" stroke="#4a4a4a" stroke-width="1"/>
<circle cx="992.90" cy="158.62" r="3.1" fill="none" stroke="#4a4a4a" stroke-width="1"/>
<circle cx="1001.10" cy="156.05" r="3.1" fill="none" stroke="#4a4a4a" stroke-width="1"/>
<circle cx="1009.30" cy="158.62" r="3.1" fill="none" stroke="#4a4a4a" stroke-width="1"/>
<rect x="543.5" y="259.7" width="196.4" height="154.5" fill="#fcfcfc" stroke="#858585" stroke-width="1.3"/>
<line x1="565.3" y1="414.2" x2="565.3" y2="412.2" stroke="#555" stroke-width="1"/>
<line x1="565.3" y1="259.7" x2="565.3" y2="261.7" stroke="#555" stroke-width="1"/>
<text x="565.3" y="427.7" font-size="10.5" fill="#555" text-anchor="middle">2</text>
<line x1="609.0" y1="414.2" x2="609.0" y2="412.2" stroke="#555" stroke-width="1"/>
<line x1="609.0" y1="259.7" x2="609.0" y2="261.7" stroke="#555" stroke-width="1"/>
<text x="609.0" y="427.7" font-size="10.5" fill="#555" text-anchor="middle">4</text>
<line x1="652.6" y1="414.2" x2="652.6" y2="412.2" stroke="#555" stroke-width="1"/>
<line x1="652.6" y1="259.7" x2="652.6" y2="261.7" stroke="#555" stroke-width="1"/>
<text x="652.6" y="427.7" font-size="10.5" fill="#555" text-anchor="middle">6</text>
<line x1="696.3" y1="414.2" x2="696.3" y2="412.2" stroke="#555" stroke-width="1"/>
<line x1="696.3" y1="259.7" x2="696.3" y2="261.7" stroke="#555" stroke-width="1"/>
<text x="696.3" y="427.7" font-size="10.5" fill="#555" text-anchor="middle">8</text>
<line x1="739.9" y1="414.2" x2="739.9" y2="412.2" stroke="#555" stroke-width="1"/>
<line x1="739.9" y1="259.7" x2="739.9" y2="261.7" stroke="#555" stroke-width="1"/>
<text x="739.9" y="427.7" font-size="10.5" fill="#555" text-anchor="middle">10</text>
<line x1="543.5" y1="414.2" x2="545.5" y2="414.2" stroke="#555" stroke-width="1"/>
<line x1="739.9" y1="414.2" x2="737.9" y2="414.2" stroke="#555" stroke-width="1"/>
<text x="541.5" y="418.2" font-size="10.5" fill="#555" text-anchor="end">0</text>
<line x1="543.5" y1="388.4" x2="545.5" y2="388.4" stroke="#555" stroke-width="1"/>
<line x1="739.9" y1="388.4" x2="737.9" y2="388.4" stroke="#555" stroke-width="1"/>
<text x="541.5" y="392.4" font-size="10.5" fill="#555" text-anchor="end">2</text>
<line x1="543.5" y1="362.7" x2="545.5" y2="362.7" stroke="#555" stroke-width="1"/>
<line x1="739.9" y1="362.7" x2="737.9" y2="362.7" stroke="#555" stroke-width="1"/>
<text x="541.5" y="366.7" font-size="10.5" fill="#555" text-anchor="end">4</text>
<line x1="543.5" y1="336.9" x2="545.5" y2="336.9" stroke="#555" stroke-width="1"/>
<line x1="739.9" y1="336.9" x2="737.9" y2="336.9" stroke="#555" stroke-width="1"/>
<text x="541.5" y="340.9" font-size="10.5" fill="#555" text-anchor="end">6</text>
<line x1="543.5" y1="311.2" x2="545.5" y2="311.2" stroke="#555" stroke-width="1"/>
<line x1="739.9" y1="311.2" x2="737.9" y2="311.2" stroke="#555" stroke-width="1"/>
<text x="541.5" y="315.2" font-size="10.5" fill="#555" text-anchor="end">8</text>
<line x1="543.5" y1="285.4" x2="545.5" y2="285.4" stroke="#555" stroke-width="1"/>
<line x1="739.9" y1="285.4" x2="737.9" y2="285.4" stroke="#555" stroke-width="1"/>
<text x="541.5" y="289.4" font-size="10.5" fill="#555" text-anchor="end">10</text>
<line x1="543.5" y1="259.7" x2="545.5" y2="259.7" stroke="#555" stroke-width="1"/>
<line x1="739.9" y1="259.7" x2="737.9" y2="259.7" stroke="#555" stroke-width="1"/>
<text x="541.5" y="263.7" font-size="10.5" fill="#555" text-anchor="end">12</text>
<circle cx="543.50" cy="414.20" r="3.1" fill="none" stroke="#4a4a4a" stroke-width="1"/>
<circle cx="565.32" cy="414.20" r="3.1" fill="none" stroke="#4a4a4a" stroke-width="1"/>
<circle cx="587.14" cy="414.20" r="3.1" fill="none" stroke="#4a4a4a" stroke-width="1"/>
<circle cx="608.97" cy="298.32" r="3.1" fill="none" stroke="#4a4a4a" stroke-width="1"/>
<circle cx="630.79" cy="281.59" r="3.1" fill="none" stroke="#4a4a4a" stroke-width="1"/>
<circle cx="652.61" cy="287.38" r="3.1" fill="none" stroke="#4a4a4a" stroke-width="1"/>
<circle cx="674.43" cy="277.08" r="3.1" fill="none" stroke="#4a4a4a" stroke-width="1"/>
<circle cx="696.26" cy="414.20" r="3.1" fill="none" stroke="#4a4a4a" stroke-width="1"/>
<circle cx="718.08" cy="414.20" r="3.1" fill="none" stroke="#4a4a4a" stroke-width="1"/>
<circle cx="739.90" cy="414.20" r="3.1" fill="none" stroke="#4a4a4a" stroke-width="1"/>
<rect x="812.7" y="259.7" width="196.6" height="154.5" fill="#fcfcfc" stroke="#858585" stroke-width="1.3"/>
<line x1="812.7" y1="414.2" x2="812.7" y2="412.2" stroke="#555" stroke-width="1"/>
<line x1="812.7" y1="259.7" x2="812.7" y2="261.7" stroke="#555" stroke-width="1"/>
<text x="812.7" y="427.7" font-size="10.5" fill="#555" text-anchor="middle">0</text>
<line x1="878.2" y1="414.2" x2="878.2" y2="412.2" stroke="#555" stroke-width="1"/>
<line x1="878.2" y1="259.7" x2="878.2" y2="261.7" stroke="#555" stroke-width="1"/>
<text x="878.2" y="427.7" font-size="10.5" fill="#555" text-anchor="middle">10</text>
<line x1="943.8" y1="414.2" x2="943.8" y2="412.2" stroke="#555" stroke-width="1"/>
<line x1="943.8" y1="259.7" x2="943.8" y2="261.7" stroke="#555" stroke-width="1"/>
<text x="943.8" y="427.7" font-size="10.5" fill="#555" text-anchor="middle">20</text>
<line x1="1009.3" y1="414.2" x2="1009.3" y2="412.2" stroke="#555" stroke-width="1"/>
<line x1="1009.3" y1="259.7" x2="1009.3" y2="261.7" stroke="#555" stroke-width="1"/>
<text x="1009.3" y="427.7" font-size="10.5" fill="#555" text-anchor="middle">30</text>
<line x1="812.7" y1="414.2" x2="814.7" y2="414.2" stroke="#555" stroke-width="1"/>
<line x1="1009.3" y1="414.2" x2="1007.3" y2="414.2" stroke="#555" stroke-width="1"/>
<text x="810.7" y="418.2" font-size="10.5" fill="#555" text-anchor="end">0</text>
<line x1="812.7" y1="388.4" x2="814.7" y2="388.4" stroke="#555" stroke-width="1"/>
<line x1="1009.3" y1="388.4" x2="1007.3" y2="388.4" stroke="#555" stroke-width="1"/>
<text x="810.7" y="392.4" font-size="10.5" fill="#555" text-anchor="end">1</text>
<line x1="812.7" y1="362.7" x2="814.7" y2="362.7" stroke="#555" stroke-width="1"/>
<line x1="1009.3" y1="362.7" x2="1007.3" y2="362.7" stroke="#555" stroke-width="1"/>
<text x="810.7" y="366.7" font-size="10.5" fill="#555" text-anchor="end">2</text>
<line x1="812.7" y1="336.9" x2="814.7" y2="336.9" stroke="#555" stroke-width="1"/>
<line x1="1009.3" y1="336.9" x2="1007.3" y2="336.9" stroke="#555" stroke-width="1"/>
<text x="810.7" y="340.9" font-size="10.5" fill="#555" text-anchor="end">3</text>
<line x1="812.7" y1="311.2" x2="814.7" y2="311.2" stroke="#555" stroke-width="1"/>
<line x1="1009.3" y1="311.2" x2="1007.3" y2="311.2" stroke="#555" stroke-width="1"/>
<text x="810.7" y="315.2" font-size="10.5" fill="#555" text-anchor="end">4</text>
<line x1="812.7" y1="285.4" x2="814.7" y2="285.4" stroke="#555" stroke-width="1"/>
<line x1="1009.3" y1="285.4" x2="1007.3" y2="285.4" stroke="#555" stroke-width="1"/>
<text x="810.7" y="289.4" font-size="10.5" fill="#555" text-anchor="end">5</text>
<line x1="812.7" y1="259.7" x2="814.7" y2="259.7" stroke="#555" stroke-width="1"/>
<line x1="1009.3" y1="259.7" x2="1007.3" y2="259.7" stroke="#555" stroke-width="1"/>
<text x="810.7" y="263.7" font-size="10.5" fill="#555" text-anchor="end">6</text>
<circle cx="819.25" cy="289.57" r="3.1" fill="none" stroke="#4a4a4a" stroke-width="1"/>
<circle cx="825.81" cy="292.40" r="3.1" fill="none" stroke="#4a4a4a" stroke-width="1"/>
<circle cx="832.36" cy="339.01" r="3.1" fill="none" stroke="#4a4a4a" stroke-width="1"/>
<circle cx="838.91" cy="349.31" r="3.1" fill="none" stroke="#4a4a4a" stroke-width="1"/>
<circle cx="845.47" cy="370.68" r="3.1" fill="none" stroke="#4a4a4a" stroke-width="1"/>
<circle cx="852.02" cy="376.86" r="3.1" fill="none" stroke="#4a4a4a" stroke-width="1"/>
<circle cx="858.57" cy="385.10" r="3.1" fill="none" stroke="#4a4a4a" stroke-width="1"/>
<circle cx="865.13" cy="389.48" r="3.1" fill="none" stroke="#4a4a4a" stroke-width="1"/>
<circle cx="871.68" cy="391.80" r="3.1" fill="none" stroke="#4a4a4a" stroke-width="1"/>
<circle cx="878.23" cy="389.74" r="3.1" fill="none" stroke="#4a4a4a" stroke-width="1"/>
<circle cx="884.79" cy="389.74" r="3.1" fill="none" stroke="#4a4a4a" stroke-width="1"/>
<circle cx="891.34" cy="388.45" r="3.1" fill="none" stroke="#4a4a4a" stroke-width="1"/>
<circle cx="897.89" cy="384.84" r="3.1" fill="none" stroke="#4a4a4a" stroke-width="1"/>
<circle cx="904.45" cy="381.50" r="3.1" fill="none" stroke="#4a4a4a" stroke-width="1"/>
<circle cx="911.00" cy="380.72" r="3.1" fill="none" stroke="#4a4a4a" stroke-width="1"/>
<circle cx="917.55" cy="381.50" r="3.1" fill="none" stroke="#4a4a4a" stroke-width="1"/>
<circle cx="924.11" cy="383.81" r="3.1" fill="none" stroke="#4a4a4a" stroke-width="1"/>
<circle cx="930.66" cy="386.13" r="3.1" fill="none" stroke="#4a4a4a" stroke-width="1"/>
<circle cx="937.21" cy="388.19" r="3.1" fill="none" stroke="#4a4a4a" stroke-width="1"/>
<circle cx="943.77" cy="389.74" r="3.1" fill="none" stroke="#4a4a4a" stroke-width="1"/>
<circle cx="950.32" cy="392.31" r="3.1" fill="none" stroke="#4a4a4a" stroke-width="1"/>
<circle cx="956.87" cy="391.54" r="3.1" fill="none" stroke="#4a4a4a" stroke-width="1"/>
<circle cx="963.43" cy="390.00" r="3.1" fill="none" stroke="#4a4a4a" stroke-width="1"/>
<circle cx="969.98" cy="384.84" r="3.1" fill="none" stroke="#4a4a4a" stroke-width="1"/>
<circle cx="976.53" cy="374.29" r="3.1" fill="none" stroke="#4a4a4a" stroke-width="1"/>
<circle cx="983.09" cy="359.61" r="3.1" fill="none" stroke="#4a4a4a" stroke-width="1"/>
<circle cx="989.64" cy="350.60" r="3.1" fill="none" stroke="#4a4a4a" stroke-width="1"/>
<circle cx="996.19" cy="334.89" r="3.1" fill="none" stroke="#4a4a4a" stroke-width="1"/>
<circle cx="1002.75" cy="343.64" r="3.1" fill="none" stroke="#4a4a4a" stroke-width="1"/>
<circle cx="1009.30" cy="343.64" r="3.1" fill="none" stroke="#4a4a4a" stroke-width="1"/>
<rect x="541.6" y="493.1" width="196.5" height="154.5" fill="#fcfcfc" stroke="#858585" stroke-width="1.3"/>
<line x1="579.3" y1="647.6" x2="579.3" y2="645.6" stroke="#555" stroke-width="1"/>
<line x1="579.3" y1="493.1" x2="579.3" y2="495.1" stroke="#555" stroke-width="1"/>
<text x="579.3" y="661.1" font-size="10.5" fill="#555" text-anchor="middle">20</text>
<line x1="619.0" y1="647.6" x2="619.0" y2="645.6" stroke="#555" stroke-width="1"/>
<line x1="619.0" y1="493.1" x2="619.0" y2="495.1" stroke="#555" stroke-width="1"/>
<text x="619.0" y="661.1" font-size="10.5" fill="#555" text-anchor="middle">40</text>
<line x1="658.7" y1="647.6" x2="658.7" y2="645.6" stroke="#555" stroke-width="1"/>
<line x1="658.7" y1="493.1" x2="658.7" y2="495.1" stroke="#555" stroke-width="1"/>
<text x="658.7" y="661.1" font-size="10.5" fill="#555" text-anchor="middle">60</text>
<line x1="698.4" y1="647.6" x2="698.4" y2="645.6" stroke="#555" stroke-width="1"/>
<line x1="698.4" y1="493.1" x2="698.4" y2="495.1" stroke="#555" stroke-width="1"/>
<text x="698.4" y="661.1" font-size="10.5" fill="#555" text-anchor="middle">80</text>
<line x1="738.1" y1="647.6" x2="738.1" y2="645.6" stroke="#555" stroke-width="1"/>
<line x1="738.1" y1="493.1" x2="738.1" y2="495.1" stroke="#555" stroke-width="1"/>
<text x="738.1" y="661.1" font-size="10.5" fill="#555" text-anchor="middle">100</text>
<line x1="541.6" y1="647.6" x2="543.6" y2="647.6" stroke="#555" stroke-width="1"/>
<line x1="738.1" y1="647.6" x2="736.1" y2="647.6" stroke="#555" stroke-width="1"/>
<text x="539.6" y="651.6" font-size="10.5" fill="#555" text-anchor="end">0</text>
<line x1="541.6" y1="609.0" x2="543.6" y2="609.0" stroke="#555" stroke-width="1"/>
<line x1="738.1" y1="609.0" x2="736.1" y2="609.0" stroke="#555" stroke-width="1"/>
<text x="539.6" y="613.0" font-size="10.5" fill="#555" text-anchor="end">2</text>
<line x1="541.6" y1="570.4" x2="543.6" y2="570.4" stroke="#555" stroke-width="1"/>
<line x1="738.1" y1="570.4" x2="736.1" y2="570.4" stroke="#555" stroke-width="1"/>
<text x="539.6" y="574.4" font-size="10.5" fill="#555" text-anchor="end">4</text>
<line x1="541.6" y1="531.7" x2="543.6" y2="531.7" stroke="#555" stroke-width="1"/>
<line x1="738.1" y1="531.7" x2="736.1" y2="531.7" stroke="#555" stroke-width="1"/>
<text x="539.6" y="535.7" font-size="10.5" fill="#555" text-anchor="end">6</text>
<line x1="541.6" y1="493.1" x2="543.6" y2="493.1" stroke="#555" stroke-width="1"/>
<line x1="738.1" y1="493.1" x2="736.1" y2="493.1" stroke="#555" stroke-width="1"/>
<text x="539.6" y="497.1" font-size="10.5" fill="#555" text-anchor="end">8</text>
<circle cx="541.60" cy="634.85" r="3.1" fill="none" stroke="#4a4a4a" stroke-width="1"/>
<circle cx="543.58" cy="633.24" r="3.1" fill="none" stroke="#4a4a4a" stroke-width="1"/>
<circle cx="545.57" cy="631.82" r="3.1" fill="none" stroke="#4a4a4a" stroke-width="1"/>
<circle cx="547.55" cy="630.22" r="3.1" fill="none" stroke="#4a4a4a" stroke-width="1"/>
<circle cx="549.54" cy="628.29" r="3.1" fill="none" stroke="#4a4a4a" stroke-width="1"/>
<circle cx="551.52" cy="626.36" r="3.1" fill="none" stroke="#4a4a4a" stroke-width="1"/>
<circle cx="553.51" cy="624.09" r="3.1" fill="none" stroke="#4a4a4a" stroke-width="1"/>
<circle cx="555.49" cy="621.34" r="3.1" fill="none" stroke="#4a4a4a" stroke-width="1"/>
<circle cx="557.48" cy="618.25" r="3.1" fill="none" stroke="#4a4a4a" stroke-width="1"/>
<circle cx="559.46" cy="617.47" r="3.1" fill="none" stroke="#4a4a4a" stroke-width="1"/>
<circle cx="561.45" cy="618.25" r="3.1" fill="none" stroke="#4a4a4a" stroke-width="1"/>
<circle cx="563.04" cy="627.13" r="3.1" fill="none" stroke="#4a4a4a" stroke-width="1"/>
<circle cx="565.02" cy="556.45" r="3.1" fill="none" stroke="#4a4a4a" stroke-width="1"/>
<circle cx="567.40" cy="647.60" r="3.1" fill="none" stroke="#4a4a4a" stroke-width="1"/>
<circle cx="569.39" cy="647.60" r="3.1" fill="none" stroke="#4a4a4a" stroke-width="1"/>
<circle cx="571.37" cy="647.60" r="3.1" fill="none" stroke="#4a4a4a" stroke-width="1"/>
<circle cx="573.36" cy="647.60" r="3.1" fill="none" stroke="#4a4a4a" stroke-width="1"/>
<circle cx="575.34" cy="647.60" r="3.1" fill="none" stroke="#4a4a4a" stroke-width="1"/>
<circle cx="577.33" cy="647.60" r="3.1" fill="none" stroke="#4a4a4a" stroke-width="1"/>
<circle cx="579.31" cy="647.60" r="3.1" fill="none" stroke="#4a4a4a" stroke-width="1"/>
<circle cx="581.30" cy="647.60" r="3.1" fill="none" stroke="#4a4a4a" stroke-width="1"/>
<circle cx="583.28" cy="647.60" r="3.1" fill="none" stroke="#4a4a4a" stroke-width="1"/>
<circle cx="585.27" cy="647.60" r="3.1" fill="none" stroke="#4a4a4a" stroke-width="1"/>
<circle cx="587.25" cy="647.60" r="3.1" fill="none" stroke="#4a4a4a" stroke-width="1"/>
<circle cx="589.24" cy="647.60" r="3.1" fill="none" stroke="#4a4a4a" stroke-width="1"/>
<circle cx="591.22" cy="647.60" r="3.1" fill="none" stroke="#4a4a4a" stroke-width="1"/>
<circle cx="593.21" cy="647.60" r="3.1" fill="none" stroke="#4a4a4a" stroke-width="1"/>
<circle cx="595.19" cy="647.60" r="3.1" fill="none" stroke="#4a4a4a" stroke-width="1"/>
<circle cx="602.34" cy="505.85" r="3.1" fill="none" stroke="#4a4a4a" stroke-width="1"/>
<circle cx="604.72" cy="528.83" r="3.1" fill="none" stroke="#4a4a4a" stroke-width="1"/>
<circle cx="607.10" cy="545.59" r="3.1" fill="none" stroke="#4a4a4a" stroke-width="1"/>
<circle cx="609.08" cy="555.60" r="3.1" fill="none" stroke="#4a4a4a" stroke-width="1"/>
<circle cx="611.07" cy="563.67" r="3.1" fill="none" stroke="#4a4a4a" stroke-width="1"/>
<circle cx="613.05" cy="570.80" r="3.1" fill="none" stroke="#4a4a4a" stroke-width="1"/>
<circle cx="615.04" cy="577.50" r="3.1" fill="none" stroke="#4a4a4a" stroke-width="1"/>
<circle cx="617.02" cy="583.17" r="3.1" fill="none" stroke="#4a4a4a" stroke-width="1"/>
<circle cx="619.01" cy="588.47" r="3.1" fill="none" stroke="#4a4a4a" stroke-width="1"/>
<circle cx="620.99" cy="593.79" r="3.1" fill="none" stroke="#4a4a4a" stroke-width="1"/>
<circle cx="622.98" cy="598.47" r="3.1" fill="none" stroke="#4a4a4a" stroke-width="1"/>
<circle cx="624.96" cy="601.79" r="3.1" fill="none" stroke="#4a4a4a" stroke-width="1"/>
<circle cx="626.95" cy="605.11" r="3.1" fill="none" stroke="#4a4a4a" stroke-width="1"/>
<circle cx="628.93" cy="608.01" r="3.1" fill="none" stroke="#4a4a4a" stroke-width="1"/>
<circle cx="630.92" cy="610.91" r="3.1" fill="none" stroke="#4a4a4a" stroke-width="1"/>
<circle cx="632.90" cy="613.80" r="3.1" fill="none" stroke="#4a4a4a" stroke-width="1"/>
<circle cx="634.89" cy="616.38" r="3.1" fill="none" stroke="#4a4a4a" stroke-width="1"/>
<circle cx="636.87" cy="618.95" r="3.1" fill="none" stroke="#4a4a4a" stroke-width="1"/>
<circle cx="638.86" cy="621.53" r="3.1" fill="none" stroke="#4a4a4a" stroke-width="1"/>
<circle cx="640.84" cy="623.12" r="3.1" fill="none" stroke="#4a4a4a" stroke-width="1"/>
<circle cx="642.83" cy="624.72" r="3.1" fill="none" stroke="#4a4a4a" stroke-width="1"/>
<circle cx="644.81" cy="623.85" r="3.1" fill="none" stroke="#4a4a4a" stroke-width="1"/>
<circle cx="646.80" cy="621.87" r="3.1" fill="none" stroke="#4a4a4a" stroke-width="1"/>
<circle cx="648.78" cy="619.87" r="3.1" fill="none" stroke="#4a4a4a" stroke-width="1"/>
<circle cx="650.77" cy="617.87" r="3.1" fill="none" stroke="#4a4a4a" stroke-width="1"/>
<circle cx="652.75" cy="614.28" r="3.1" fill="none" stroke="#4a4a4a" stroke-width="1"/>
<circle cx="654.74" cy="610.29" r="3.1" fill="none" stroke="#4a4a4a" stroke-width="1"/>
<circle cx="656.72" cy="606.30" r="3.1" fill="none" stroke="#4a4a4a" stroke-width="1"/>
<circle cx="658.71" cy="602.28" r="3.1" fill="none" stroke="#4a4a4a" stroke-width="1"/>
<circle cx="660.69" cy="598.26" r="3.1" fill="none" stroke="#4a4a4a" stroke-width="1"/>
<circle cx="662.68" cy="593.81" r="3.1" fill="none" stroke="#4a4a4a" stroke-width="1"/>
<circle cx="664.66" cy="588.71" r="3.1" fill="none" stroke="#4a4a4a" stroke-width="1"/>
<circle cx="666.65" cy="583.24" r="3.1" fill="none" stroke="#4a4a4a" stroke-width="1"/>
<circle cx="668.63" cy="576.25" r="3.1" fill="none" stroke="#4a4a4a" stroke-width="1"/>
<circle cx="670.62" cy="569.12" r="3.1" fill="none" stroke="#4a4a4a" stroke-width="1"/>
<circle cx="672.60" cy="560.68" r="3.1" fill="none" stroke="#4a4a4a" stroke-width="1"/>
<circle cx="674.58" cy="551.85" r="3.1" fill="none" stroke="#4a4a4a" stroke-width="1"/>
<circle cx="677.76" cy="531.73" r="3.1" fill="none" stroke="#4a4a4a" stroke-width="1"/>
<circle cx="679.94" cy="522.07" r="3.1" fill="none" stroke="#4a4a4a" stroke-width="1"/>
<circle cx="682.33" cy="531.73" r="3.1" fill="none" stroke="#4a4a4a" stroke-width="1"/>
<circle cx="683.91" cy="501.79" r="3.1" fill="none" stroke="#4a4a4a" stroke-width="1"/>
<circle cx="686.49" cy="647.60" r="3.1" fill="none" stroke="#4a4a4a" stroke-width="1"/>
<circle cx="688.48" cy="647.60" r="3.1" fill="none" stroke="#4a4a4a" stroke-width="1"/>
<circle cx="690.46" cy="647.60" r="3.1" fill="none" stroke="#4a4a4a" stroke-width="1"/>
<circle cx="692.45" cy="647.60" r="3.1" fill="none" stroke="#4a4a4a" stroke-width="1"/>
<circle cx="694.43" cy="647.60" r="3.1" fill="none" stroke="#4a4a4a" stroke-width="1"/>
<circle cx="696.42" cy="647.60" r="3.1" fill="none" stroke="#4a4a4a" stroke-width="1"/>
<circle cx="698.40" cy="647.60" r="3.1" fill="none" stroke="#4a4a4a" stroke-width="1"/>
<circle cx="700.39" cy="647.60" r="3.1" fill="none" stroke="#4a4a4a" stroke-width="1"/>
<circle cx="702.37" cy="647.60" r="3.1" fill="none" stroke="#4a4a4a" stroke-width="1"/>
<circle cx="704.36" cy="647.60" r="3.1" fill="none" stroke="#4a4a4a" stroke-width="1"/>
<circle cx="706.34" cy="647.60" r="3.1" fill="none" stroke="#4a4a4a" stroke-width="1"/>
<circle cx="708.33" cy="647.60" r="3.1" fill="none" stroke="#4a4a4a" stroke-width="1"/>
<circle cx="710.31" cy="647.60" r="3.1" fill="none" stroke="#4a4a4a" stroke-width="1"/>
<circle cx="713.49" cy="509.90" r="3.1" fill="none" stroke="#4a4a4a" stroke-width="1"/>
<circle cx="715.47" cy="551.42" r="3.1" fill="none" stroke="#4a4a4a" stroke-width="1"/>
<circle cx="717.46" cy="561.66" r="3.1" fill="none" stroke="#4a4a4a" stroke-width="1"/>
<circle cx="719.44" cy="577.88" r="3.1" fill="none" stroke="#4a4a4a" stroke-width="1"/>
<circle cx="721.23" cy="592.37" r="3.1" fill="none" stroke="#4a4a4a" stroke-width="1"/>
<circle cx="723.21" cy="601.25" r="3.1" fill="none" stroke="#4a4a4a" stroke-width="1"/>
<circle cx="725.60" cy="607.62" r="3.1" fill="none" stroke="#4a4a4a" stroke-width="1"/>
<circle cx="727.58" cy="613.42" r="3.1" fill="none" stroke="#4a4a4a" stroke-width="1"/>
<circle cx="729.17" cy="618.25" r="3.1" fill="none" stroke="#4a4a4a" stroke-width="1"/>
<circle cx="731.15" cy="622.30" r="3.1" fill="none" stroke="#4a4a4a" stroke-width="1"/>
<circle cx="733.14" cy="625.20" r="3.1" fill="none" stroke="#4a4a4a" stroke-width="1"/>
<circle cx="735.12" cy="628.09" r="3.1" fill="none" stroke="#4a4a4a" stroke-width="1"/>
<circle cx="737.11" cy="630.03" r="3.1" fill="none" stroke="#4a4a4a" stroke-width="1"/>
<rect x="810.9" y="493.2" width="196.0" height="154.7" fill="#fcfcfc" stroke="#858585" stroke-width="1.3"/>
<line x1="848.5" y1="647.9" x2="848.5" y2="645.9" stroke="#555" stroke-width="1"/>
<line x1="848.5" y1="493.2" x2="848.5" y2="495.2" stroke="#555" stroke-width="1"/>
<text x="848.5" y="661.4" font-size="10.5" fill="#555" text-anchor="middle">20</text>
<line x1="888.1" y1="647.9" x2="888.1" y2="645.9" stroke="#555" stroke-width="1"/>
<line x1="888.1" y1="493.2" x2="888.1" y2="495.2" stroke="#555" stroke-width="1"/>
<text x="888.1" y="661.4" font-size="10.5" fill="#555" text-anchor="middle">40</text>
<line x1="927.7" y1="647.9" x2="927.7" y2="645.9" stroke="#555" stroke-width="1"/>
<line x1="927.7" y1="493.2" x2="927.7" y2="495.2" stroke="#555" stroke-width="1"/>
<text x="927.7" y="661.4" font-size="10.5" fill="#555" text-anchor="middle">60</text>
<line x1="967.3" y1="647.9" x2="967.3" y2="645.9" stroke="#555" stroke-width="1"/>
<line x1="967.3" y1="493.2" x2="967.3" y2="495.2" stroke="#555" stroke-width="1"/>
<text x="967.3" y="661.4" font-size="10.5" fill="#555" text-anchor="middle">80</text>
<line x1="1006.9" y1="647.9" x2="1006.9" y2="645.9" stroke="#555" stroke-width="1"/>
<line x1="1006.9" y1="493.2" x2="1006.9" y2="495.2" stroke="#555" stroke-width="1"/>
<text x="1006.9" y="661.4" font-size="10.5" fill="#555" text-anchor="middle">100</text>
<line x1="810.9" y1="647.9" x2="812.9" y2="647.9" stroke="#555" stroke-width="1"/>
<line x1="1006.9" y1="647.9" x2="1004.9" y2="647.9" stroke="#555" stroke-width="1"/>
<text x="808.9" y="651.9" font-size="10.5" fill="#555" text-anchor="end">0</text>
<line x1="810.9" y1="622.1" x2="812.9" y2="622.1" stroke="#555" stroke-width="1"/>
<line x1="1006.9" y1="622.1" x2="1004.9" y2="622.1" stroke="#555" stroke-width="1"/>
<text x="808.9" y="626.1" font-size="10.5" fill="#555" text-anchor="end">0.5</text>
<line x1="810.9" y1="596.3" x2="812.9" y2="596.3" stroke="#555" stroke-width="1"/>
<line x1="1006.9" y1="596.3" x2="1004.9" y2="596.3" stroke="#555" stroke-width="1"/>
<text x="808.9" y="600.3" font-size="10.5" fill="#555" text-anchor="end">1</text>
<line x1="810.9" y1="570.5" x2="812.9" y2="570.5" stroke="#555" stroke-width="1"/>
<line x1="1006.9" y1="570.5" x2="1004.9" y2="570.5" stroke="#555" stroke-width="1"/>
<text x="808.9" y="574.5" font-size="10.5" fill="#555" text-anchor="end">1.5</text>
<line x1="810.9" y1="544.8" x2="812.9" y2="544.8" stroke="#555" stroke-width="1"/>
<line x1="1006.9" y1="544.8" x2="1004.9" y2="544.8" stroke="#555" stroke-width="1"/>
<text x="808.9" y="548.8" font-size="10.5" fill="#555" text-anchor="end">2</text>
<line x1="810.9" y1="519.0" x2="812.9" y2="519.0" stroke="#555" stroke-width="1"/>
<line x1="1006.9" y1="519.0" x2="1004.9" y2="519.0" stroke="#555" stroke-width="1"/>
<text x="808.9" y="523.0" font-size="10.5" fill="#555" text-anchor="end">2.5</text>
<line x1="810.9" y1="493.2" x2="812.9" y2="493.2" stroke="#555" stroke-width="1"/>
<line x1="1006.9" y1="493.2" x2="1004.9" y2="493.2" stroke="#555" stroke-width="1"/>
<text x="808.9" y="497.2" font-size="10.5" fill="#555" text-anchor="end">3</text>
<circle cx="810.90" cy="604.58" r="3.1" fill="none" stroke="#4a4a4a" stroke-width="1"/>
<circle cx="812.88" cy="602.91" r="3.1" fill="none" stroke="#4a4a4a" stroke-width="1"/>
<circle cx="814.86" cy="601.23" r="3.1" fill="none" stroke="#4a4a4a" stroke-width="1"/>
<circle cx="816.84" cy="599.56" r="3.1" fill="none" stroke="#4a4a4a" stroke-width="1"/>
<circle cx="818.82" cy="597.88" r="3.1" fill="none" stroke="#4a4a4a" stroke-width="1"/>
<circle cx="820.80" cy="596.02" r="3.1" fill="none" stroke="#4a4a4a" stroke-width="1"/>
<circle cx="822.78" cy="594.17" r="3.1" fill="none" stroke="#4a4a4a" stroke-width="1"/>
<circle cx="824.76" cy="592.31" r="3.1" fill="none" stroke="#4a4a4a" stroke-width="1"/>
<circle cx="826.74" cy="590.45" r="3.1" fill="none" stroke="#4a4a4a" stroke-width="1"/>
<circle cx="828.72" cy="588.60" r="3.1" fill="none" stroke="#4a4a4a" stroke-width="1"/>
<circle cx="830.70" cy="586.66" r="3.1" fill="none" stroke="#4a4a4a" stroke-width="1"/>
<circle cx="832.68" cy="584.73" r="3.1" fill="none" stroke="#4a4a4a" stroke-width="1"/>
<circle cx="834.66" cy="582.80" r="3.1" fill="none" stroke="#4a4a4a" stroke-width="1"/>
<circle cx="836.64" cy="580.86" r="3.1" fill="none" stroke="#4a4a4a" stroke-width="1"/>
<circle cx="838.62" cy="578.89" r="3.1" fill="none" stroke="#4a4a4a" stroke-width="1"/>
<circle cx="840.60" cy="576.92" r="3.1" fill="none" stroke="#4a4a4a" stroke-width="1"/>
<circle cx="842.58" cy="574.95" r="3.1" fill="none" stroke="#4a4a4a" stroke-width="1"/>
<circle cx="845.35" cy="576.74" r="3.1" fill="none" stroke="#4a4a4a" stroke-width="1"/>
<circle cx="847.33" cy="581.89" r="3.1" fill="none" stroke="#4a4a4a" stroke-width="1"/>
<circle cx="849.31" cy="586.02" r="3.1" fill="none" stroke="#4a4a4a" stroke-width="1"/>
<circle cx="851.29" cy="583.44" r="3.1" fill="none" stroke="#4a4a4a" stroke-width="1"/>
<circle cx="853.66" cy="574.16" r="3.1" fill="none" stroke="#4a4a4a" stroke-width="1"/>
<circle cx="855.84" cy="549.41" r="3.1" fill="none" stroke="#4a4a4a" stroke-width="1"/>
<circle cx="860.39" cy="647.90" r="3.1" fill="none" stroke="#4a4a4a" stroke-width="1"/>
<circle cx="862.37" cy="647.90" r="3.1" fill="none" stroke="#4a4a4a" stroke-width="1"/>
<circle cx="864.35" cy="647.90" r="3.1" fill="none" stroke="#4a4a4a" stroke-width="1"/>
<circle cx="866.33" cy="647.90" r="3.1" fill="none" stroke="#4a4a4a" stroke-width="1"/>
<circle cx="868.31" cy="647.90" r="3.1" fill="none" stroke="#4a4a4a" stroke-width="1"/>
<circle cx="870.29" cy="647.90" r="3.1" fill="none" stroke="#4a4a4a" stroke-width="1"/>
<circle cx="872.27" cy="647.90" r="3.1" fill="none" stroke="#4a4a4a" stroke-width="1"/>
<circle cx="874.25" cy="647.90" r="3.1" fill="none" stroke="#4a4a4a" stroke-width="1"/>
<circle cx="876.23" cy="647.90" r="3.1" fill="none" stroke="#4a4a4a" stroke-width="1"/>
<circle cx="878.21" cy="647.90" r="3.1" fill="none" stroke="#4a4a4a" stroke-width="1"/>
<circle cx="880.19" cy="647.90" r="3.1" fill="none" stroke="#4a4a4a" stroke-width="1"/>
<circle cx="882.17" cy="647.90" r="3.1" fill="none" stroke="#4a4a4a" stroke-width="1"/>
<circle cx="884.15" cy="647.90" r="3.1" fill="none" stroke="#4a4a4a" stroke-width="1"/>
<circle cx="886.13" cy="647.90" r="3.1" fill="none" stroke="#4a4a4a" stroke-width="1"/>
<circle cx="889.89" cy="508.15" r="3.1" fill="none" stroke="#4a4a4a" stroke-width="1"/>
<circle cx="891.68" cy="521.56" r="3.1" fill="none" stroke="#4a4a4a" stroke-width="1"/>
<circle cx="893.66" cy="533.42" r="3.1" fill="none" stroke="#4a4a4a" stroke-width="1"/>
<circle cx="895.64" cy="540.64" r="3.1" fill="none" stroke="#4a4a4a" stroke-width="1"/>
<circle cx="897.62" cy="548.89" r="3.1" fill="none" stroke="#4a4a4a" stroke-width="1"/>
<circle cx="899.59" cy="559.21" r="3.1" fill="none" stroke="#4a4a4a" stroke-width="1"/>
<circle cx="901.57" cy="569.52" r="3.1" fill="none" stroke="#4a4a4a" stroke-width="1"/>
<circle cx="903.36" cy="579.83" r="3.1" fill="none" stroke="#4a4a4a" stroke-width="1"/>
<circle cx="905.34" cy="587.57" r="3.1" fill="none" stroke="#4a4a4a" stroke-width="1"/>
<circle cx="907.32" cy="592.72" r="3.1" fill="none" stroke="#4a4a4a" stroke-width="1"/>
<circle cx="909.30" cy="594.79" r="3.1" fill="none" stroke="#4a4a4a" stroke-width="1"/>
<circle cx="911.28" cy="596.33" r="3.1" fill="none" stroke="#4a4a4a" stroke-width="1"/>
<circle cx="913.06" cy="593.75" r="3.1" fill="none" stroke="#4a4a4a" stroke-width="1"/>
<circle cx="915.43" cy="587.05" r="3.1" fill="none" stroke="#4a4a4a" stroke-width="1"/>
<circle cx="917.41" cy="579.32" r="3.1" fill="none" stroke="#4a4a4a" stroke-width="1"/>
<circle cx="919.39" cy="571.58" r="3.1" fill="none" stroke="#4a4a4a" stroke-width="1"/>
<circle cx="921.37" cy="564.88" r="3.1" fill="none" stroke="#4a4a4a" stroke-width="1"/>
<circle cx="923.35" cy="555.08" r="3.1" fill="none" stroke="#4a4a4a" stroke-width="1"/>
<circle cx="925.33" cy="543.74" r="3.1" fill="none" stroke="#4a4a4a" stroke-width="1"/>
<circle cx="926.92" cy="531.36" r="3.1" fill="none" stroke="#4a4a4a" stroke-width="1"/>
<circle cx="929.29" cy="515.37" r="3.1" fill="none" stroke="#4a4a4a" stroke-width="1"/>
<circle cx="931.27" cy="494.23" r="3.1" fill="none" stroke="#4a4a4a" stroke-width="1"/>
<circle cx="937.61" cy="647.90" r="3.1" fill="none" stroke="#4a4a4a" stroke-width="1"/>
<circle cx="939.59" cy="647.90" r="3.1" fill="none" stroke="#4a4a4a" stroke-width="1"/>
<circle cx="941.57" cy="647.90" r="3.1" fill="none" stroke="#4a4a4a" stroke-width="1"/>
<circle cx="943.55" cy="647.90" r="3.1" fill="none" stroke="#4a4a4a" stroke-width="1"/>
<circle cx="945.53" cy="647.90" r="3.1" fill="none" stroke="#4a4a4a" stroke-width="1"/>
<circle cx="947.51" cy="647.90" r="3.1" fill="none" stroke="#4a4a4a" stroke-width="1"/>
<circle cx="949.49" cy="647.90" r="3.1" fill="none" stroke="#4a4a4a" stroke-width="1"/>
<circle cx="951.47" cy="647.90" r="3.1" fill="none" stroke="#4a4a4a" stroke-width="1"/>
<circle cx="953.45" cy="647.90" r="3.1" fill="none" stroke="#4a4a4a" stroke-width="1"/>
<circle cx="955.43" cy="647.90" r="3.1" fill="none" stroke="#4a4a4a" stroke-width="1"/>
<circle cx="957.41" cy="647.90" r="3.1" fill="none" stroke="#4a4a4a" stroke-width="1"/>
<circle cx="959.38" cy="647.90" r="3.1" fill="none" stroke="#4a4a4a" stroke-width="1"/>
<circle cx="961.36" cy="647.90" r="3.1" fill="none" stroke="#4a4a4a" stroke-width="1"/>
<circle cx="963.34" cy="647.90" r="3.1" fill="none" stroke="#4a4a4a" stroke-width="1"/>
<circle cx="965.32" cy="647.90" r="3.1" fill="none" stroke="#4a4a4a" stroke-width="1"/>
<circle cx="969.48" cy="567.46" r="3.1" fill="none" stroke="#4a4a4a" stroke-width="1"/>
<circle cx="971.46" cy="583.44" r="3.1" fill="none" stroke="#4a4a4a" stroke-width="1"/>
<circle cx="973.44" cy="590.15" r="3.1" fill="none" stroke="#4a4a4a" stroke-width="1"/>
<circle cx="975.42" cy="593.24" r="3.1" fill="none" stroke="#4a4a4a" stroke-width="1"/>
<circle cx="977.40" cy="596.33" r="3.1" fill="none" stroke="#4a4a4a" stroke-width="1"/>
<circle cx="979.18" cy="601.49" r="3.1" fill="none" stroke="#4a4a4a" stroke-width="1"/>
<circle cx="981.16" cy="602.10" r="3.1" fill="none" stroke="#4a4a4a" stroke-width="1"/>
<circle cx="983.14" cy="601.49" r="3.1" fill="none" stroke="#4a4a4a" stroke-width="1"/>
<circle cx="985.12" cy="602.01" r="3.1" fill="none" stroke="#4a4a4a" stroke-width="1"/>
<circle cx="987.10" cy="602.52" r="3.1" fill="none" stroke="#4a4a4a" stroke-width="1"/>
<circle cx="989.08" cy="603.55" r="3.1" fill="none" stroke="#4a4a4a" stroke-width="1"/>
<circle cx="991.06" cy="604.58" r="3.1" fill="none" stroke="#4a4a4a" stroke-width="1"/>
<circle cx="993.04" cy="605.62" r="3.1" fill="none" stroke="#4a4a4a" stroke-width="1"/>
<circle cx="995.02" cy="606.99" r="3.1" fill="none" stroke="#4a4a4a" stroke-width="1"/>
<circle cx="997.00" cy="608.37" r="3.1" fill="none" stroke="#4a4a4a" stroke-width="1"/>
<circle cx="998.98" cy="609.74" r="3.1" fill="none" stroke="#4a4a4a" stroke-width="1"/>
<circle cx="1000.96" cy="611.42" r="3.1" fill="none" stroke="#4a4a4a" stroke-width="1"/>
<circle cx="1002.94" cy="613.09" r="3.1" fill="none" stroke="#4a4a4a" stroke-width="1"/>
<circle cx="1004.92" cy="614.77" r="3.1" fill="none" stroke="#4a4a4a" stroke-width="1"/>
<circle cx="1006.90" cy="616.44" r="3.1" fill="none" stroke="#4a4a4a" stroke-width="1"/>
<rect x="541.6" y="705.5" width="196.3" height="154.6" fill="#fcfcfc" stroke="#858585" stroke-width="1.3"/>
<line x1="586.9" y1="860.1" x2="586.9" y2="858.1" stroke="#555" stroke-width="1"/>
<line x1="586.9" y1="705.5" x2="586.9" y2="707.5" stroke="#555" stroke-width="1"/>
<text x="586.9" y="873.6" font-size="10.5" fill="#555" text-anchor="middle">10</text>
<line x1="637.2" y1="860.1" x2="637.2" y2="858.1" stroke="#555" stroke-width="1"/>
<line x1="637.2" y1="705.5" x2="637.2" y2="707.5" stroke="#555" stroke-width="1"/>
<text x="637.2" y="873.6" font-size="10.5" fill="#555" text-anchor="middle">20</text>
<line x1="687.6" y1="860.1" x2="687.6" y2="858.1" stroke="#555" stroke-width="1"/>
<line x1="687.6" y1="705.5" x2="687.6" y2="707.5" stroke="#555" stroke-width="1"/>
<text x="687.6" y="873.6" font-size="10.5" fill="#555" text-anchor="middle">30</text>
<line x1="737.9" y1="860.1" x2="737.9" y2="858.1" stroke="#555" stroke-width="1"/>
<line x1="737.9" y1="705.5" x2="737.9" y2="707.5" stroke="#555" stroke-width="1"/>
<text x="737.9" y="873.6" font-size="10.5" fill="#555" text-anchor="middle">40</text>
<line x1="541.6" y1="860.1" x2="543.6" y2="860.1" stroke="#555" stroke-width="1"/>
<line x1="737.9" y1="860.1" x2="735.9" y2="860.1" stroke="#555" stroke-width="1"/>
<text x="539.6" y="864.1" font-size="10.5" fill="#555" text-anchor="end">0</text>
<line x1="541.6" y1="834.3" x2="543.6" y2="834.3" stroke="#555" stroke-width="1"/>
<line x1="737.9" y1="834.3" x2="735.9" y2="834.3" stroke="#555" stroke-width="1"/>
<text x="539.6" y="838.3" font-size="10.5" fill="#555" text-anchor="end">2</text>
<line x1="541.6" y1="808.6" x2="543.6" y2="808.6" stroke="#555" stroke-width="1"/>
<line x1="737.9" y1="808.6" x2="735.9" y2="808.6" stroke="#555" stroke-width="1"/>
<text x="539.6" y="812.6" font-size="10.5" fill="#555" text-anchor="end">4</text>
<line x1="541.6" y1="782.8" x2="543.6" y2="782.8" stroke="#555" stroke-width="1"/>
<line x1="737.9" y1="782.8" x2="735.9" y2="782.8" stroke="#555" stroke-width="1"/>
<text x="539.6" y="786.8" font-size="10.5" fill="#555" text-anchor="end">6</text>
<line x1="541.6" y1="757.0" x2="543.6" y2="757.0" stroke="#555" stroke-width="1"/>
<line x1="737.9" y1="757.0" x2="735.9" y2="757.0" stroke="#555" stroke-width="1"/>
<text x="539.6" y="761.0" font-size="10.5" fill="#555" text-anchor="end">8</text>
<line x1="541.6" y1="731.3" x2="543.6" y2="731.3" stroke="#555" stroke-width="1"/>
<line x1="737.9" y1="731.3" x2="735.9" y2="731.3" stroke="#555" stroke-width="1"/>
<text x="539.6" y="735.3" font-size="10.5" fill="#555" text-anchor="end">10</text>
<line x1="541.6" y1="705.5" x2="543.6" y2="705.5" stroke="#555" stroke-width="1"/>
<line x1="737.9" y1="705.5" x2="735.9" y2="705.5" stroke="#555" stroke-width="1"/>
<text x="539.6" y="709.5" font-size="10.5" fill="#555" text-anchor="end">12</text>
<circle cx="541.60" cy="860.10" r="3.1" fill="none" stroke="#4a4a4a" stroke-width="1"/>
<circle cx="546.63" cy="860.10" r="3.1" fill="none" stroke="#4a4a4a" stroke-width="1"/>
<circle cx="551.67" cy="860.10" r="3.1" fill="none" stroke="#4a4a4a" stroke-width="1"/>
<circle cx="556.70" cy="860.10" r="3.1" fill="none" stroke="#4a4a4a" stroke-width="1"/>
<circle cx="561.73" cy="860.10" r="3.1" fill="none" stroke="#4a4a4a" stroke-width="1"/>
<circle cx="566.77" cy="860.10" r="3.1" fill="none" stroke="#4a4a4a" stroke-width="1"/>
<circle cx="571.80" cy="860.10" r="3.1" fill="none" stroke="#4a4a4a" stroke-width="1"/>
<circle cx="576.83" cy="860.10" r="3.1" fill="none" stroke="#4a4a4a" stroke-width="1"/>
<circle cx="581.87" cy="860.10" r="3.1" fill="none" stroke="#4a4a4a" stroke-width="1"/>
<circle cx="586.90" cy="860.10" r="3.1" fill="none" stroke="#4a4a4a" stroke-width="1"/>
<circle cx="591.93" cy="860.10" r="3.1" fill="none" stroke="#4a4a4a" stroke-width="1"/>
<circle cx="596.97" cy="860.10" r="3.1" fill="none" stroke="#4a4a4a" stroke-width="1"/>
<circle cx="622.13" cy="730.36" r="3.1" fill="none" stroke="#4a4a4a" stroke-width="1"/>
<circle cx="627.17" cy="738.61" r="3.1" fill="none" stroke="#4a4a4a" stroke-width="1"/>
<circle cx="632.20" cy="739.00" r="3.1" fill="none" stroke="#4a4a4a" stroke-width="1"/>
<circle cx="637.23" cy="737.71" r="3.1" fill="none" stroke="#4a4a4a" stroke-width="1"/>
<circle cx="642.27" cy="735.13" r="3.1" fill="none" stroke="#4a4a4a" stroke-width="1"/>
<circle cx="647.30" cy="732.55" r="3.1" fill="none" stroke="#4a4a4a" stroke-width="1"/>
<circle cx="652.33" cy="720.19" r="3.1" fill="none" stroke="#4a4a4a" stroke-width="1"/>
<circle cx="672.47" cy="860.10" r="3.1" fill="none" stroke="#4a4a4a" stroke-width="1"/>
<circle cx="677.50" cy="860.10" r="3.1" fill="none" stroke="#4a4a4a" stroke-width="1"/>
<circle cx="682.53" cy="860.10" r="3.1" fill="none" stroke="#4a4a4a" stroke-width="1"/>
<circle cx="687.57" cy="860.10" r="3.1" fill="none" stroke="#4a4a4a" stroke-width="1"/>
<circle cx="692.60" cy="860.10" r="3.1" fill="none" stroke="#4a4a4a" stroke-width="1"/>
<circle cx="697.63" cy="860.10" r="3.1" fill="none" stroke="#4a4a4a" stroke-width="1"/>
<circle cx="702.67" cy="860.10" r="3.1" fill="none" stroke="#4a4a4a" stroke-width="1"/>
<circle cx="707.70" cy="860.10" r="3.1" fill="none" stroke="#4a4a4a" stroke-width="1"/>
<circle cx="712.73" cy="860.10" r="3.1" fill="none" stroke="#4a4a4a" stroke-width="1"/>
<circle cx="717.77" cy="860.10" r="3.1" fill="none" stroke="#4a4a4a" stroke-width="1"/>
<circle cx="722.80" cy="860.10" r="3.1" fill="none" stroke="#4a4a4a" stroke-width="1"/>
<circle cx="727.83" cy="860.10" r="3.1" fill="none" stroke="#4a4a4a" stroke-width="1"/>
<circle cx="732.87" cy="860.10" r="3.1" fill="none" stroke="#4a4a4a" stroke-width="1"/>
<circle cx="737.90" cy="860.10" r="3.1" fill="none" stroke="#4a4a4a" stroke-width="1"/>
<rect x="810.5" y="705.5" width="196.4" height="154.1" fill="#fcfcfc" stroke="#858585" stroke-width="1.3"/>
<line x1="841.9" y1="859.6" x2="841.9" y2="857.6" stroke="#555" stroke-width="1"/>
<line x1="841.9" y1="705.5" x2="841.9" y2="707.5" stroke="#555" stroke-width="1"/>
<text x="841.9" y="873.1" font-size="10.5" fill="#555" text-anchor="middle">20</text>
<line x1="874.9" y1="859.6" x2="874.9" y2="857.6" stroke="#555" stroke-width="1"/>
<line x1="874.9" y1="705.5" x2="874.9" y2="707.5" stroke="#555" stroke-width="1"/>
<text x="874.9" y="873.1" font-size="10.5" fill="#555" text-anchor="middle">40</text>
<line x1="907.9" y1="859.6" x2="907.9" y2="857.6" stroke="#555" stroke-width="1"/>
<line x1="907.9" y1="705.5" x2="907.9" y2="707.5" stroke="#555" stroke-width="1"/>
<text x="907.9" y="873.1" font-size="10.5" fill="#555" text-anchor="middle">60</text>
<line x1="940.9" y1="859.6" x2="940.9" y2="857.6" stroke="#555" stroke-width="1"/>
<line x1="940.9" y1="705.5" x2="940.9" y2="707.5" stroke="#555" stroke-width="1"/>
<text x="940.9" y="873.1" font-size="10.5" fill="#555" text-anchor="middle">80</text>
<line x1="973.9" y1="859.6" x2="973.9" y2="857.6" stroke="#555" stroke-width="1"/>
<line x1="973.9" y1="705.5" x2="973.9" y2="707.5" stroke="#555" stroke-width="1"/>
<text x="973.9" y="873.1" font-size="10.5" fill="#555" text-anchor="middle">100</text>
<line x1="1006.9" y1="859.6" x2="1006.9" y2="857.6" stroke="#555" stroke-width="1"/>
<line x1="1006.9" y1="705.5" x2="1006.9" y2="707.5" stroke="#555" stroke-width="1"/>
<text x="1006.9" y="873.1" font-size="10.5" fill="#555" text-anchor="middle">120</text>
<line x1="810.5" y1="859.6" x2="812.5" y2="859.6" stroke="#555" stroke-width="1"/>
<line x1="1006.9" y1="859.6" x2="1004.9" y2="859.6" stroke="#555" stroke-width="1"/>
<text x="808.5" y="863.6" font-size="10.5" fill="#555" text-anchor="end">0</text>
<line x1="810.5" y1="833.9" x2="812.5" y2="833.9" stroke="#555" stroke-width="1"/>
<line x1="1006.9" y1="833.9" x2="1004.9" y2="833.9" stroke="#555" stroke-width="1"/>
<text x="808.5" y="837.9" font-size="10.5" fill="#555" text-anchor="end">1</text>
<line x1="810.5" y1="808.2" x2="812.5" y2="808.2" stroke="#555" stroke-width="1"/>
<line x1="1006.9" y1="808.2" x2="1004.9" y2="808.2" stroke="#555" stroke-width="1"/>
<text x="808.5" y="812.2" font-size="10.5" fill="#555" text-anchor="end">2</text>
<line x1="810.5" y1="782.5" x2="812.5" y2="782.5" stroke="#555" stroke-width="1"/>
<line x1="1006.9" y1="782.5" x2="1004.9" y2="782.5" stroke="#555" stroke-width="1"/>
<text x="808.5" y="786.5" font-size="10.5" fill="#555" text-anchor="end">3</text>
<line x1="810.5" y1="756.9" x2="812.5" y2="756.9" stroke="#555" stroke-width="1"/>
<line x1="1006.9" y1="756.9" x2="1004.9" y2="756.9" stroke="#555" stroke-width="1"/>
<text x="808.5" y="760.9" font-size="10.5" fill="#555" text-anchor="end">4</text>
<line x1="810.5" y1="731.2" x2="812.5" y2="731.2" stroke="#555" stroke-width="1"/>
<line x1="1006.9" y1="731.2" x2="1004.9" y2="731.2" stroke="#555" stroke-width="1"/>
<text x="808.5" y="735.2" font-size="10.5" fill="#555" text-anchor="end">5</text>
<line x1="810.5" y1="705.5" x2="812.5" y2="705.5" stroke="#555" stroke-width="1"/>
<line x1="1006.9" y1="705.5" x2="1004.9" y2="705.5" stroke="#555" stroke-width="1"/>
<text x="808.5" y="709.5" font-size="10.5" fill="#555" text-anchor="end">6</text>
<circle cx="810.50" cy="859.60" r="3.1" fill="none" stroke="#4a4a4a" stroke-width="1"/>
<circle cx="812.15" cy="859.60" r="3.1" fill="none" stroke="#4a4a4a" stroke-width="1"/>
<circle cx="813.80" cy="859.60" r="3.1" fill="none" stroke="#4a4a4a" stroke-width="1"/>
<circle cx="815.45" cy="859.60" r="3.1" fill="none" stroke="#4a4a4a" stroke-width="1"/>
<circle cx="817.10" cy="859.60" r="3.1" fill="none" stroke="#4a4a4a" stroke-width="1"/>
<circle cx="818.75" cy="859.60" r="3.1" fill="none" stroke="#4a4a4a" stroke-width="1"/>
<circle cx="820.40" cy="859.60" r="3.1" fill="none" stroke="#4a4a4a" stroke-width="1"/>
<circle cx="832.10" cy="725.30" r="3.1" fill="none" stroke="#4a4a4a" stroke-width="1"/>
<circle cx="833.61" cy="738.38" r="3.1" fill="none" stroke="#4a4a4a" stroke-width="1"/>
<circle cx="835.26" cy="745.89" r="3.1" fill="none" stroke="#4a4a4a" stroke-width="1"/>
<circle cx="836.91" cy="752.63" r="3.1" fill="none" stroke="#4a4a4a" stroke-width="1"/>
<circle cx="838.56" cy="759.49" r="3.1" fill="none" stroke="#4a4a4a" stroke-width="1"/>
<circle cx="840.21" cy="765.87" r="3.1" fill="none" stroke="#4a4a4a" stroke-width="1"/>
<circle cx="841.86" cy="773.20" r="3.1" fill="none" stroke="#4a4a4a" stroke-width="1"/>
<circle cx="843.51" cy="779.58" r="3.1" fill="none" stroke="#4a4a4a" stroke-width="1"/>
<circle cx="845.16" cy="785.45" r="3.1" fill="none" stroke="#4a4a4a" stroke-width="1"/>
<circle cx="846.81" cy="791.14" r="3.1" fill="none" stroke="#4a4a4a" stroke-width="1"/>
<circle cx="848.46" cy="796.82" r="3.1" fill="none" stroke="#4a4a4a" stroke-width="1"/>
<circle cx="850.11" cy="801.65" r="3.1" fill="none" stroke="#4a4a4a" stroke-width="1"/>
<circle cx="851.76" cy="806.67" r="3.1" fill="none" stroke="#4a4a4a" stroke-width="1"/>
<circle cx="853.41" cy="811.01" r="3.1" fill="none" stroke="#4a4a4a" stroke-width="1"/>
<circle cx="855.06" cy="815.07" r="3.1" fill="none" stroke="#4a4a4a" stroke-width="1"/>
<circle cx="856.71" cy="818.92" r="3.1" fill="none" stroke="#4a4a4a" stroke-width="1"/>
<circle cx="858.36" cy="822.22" r="3.1" fill="none" stroke="#4a4a4a" stroke-width="1"/>
<circle cx="860.01" cy="825.39" r="3.1" fill="none" stroke="#4a4a4a" stroke-width="1"/>
<circle cx="861.66" cy="828.14" r="3.1" fill="none" stroke="#4a4a4a" stroke-width="1"/>
<circle cx="863.31" cy="830.75" r="3.1" fill="none" stroke="#4a4a4a" stroke-width="1"/>
<circle cx="864.96" cy="832.95" r="3.1" fill="none" stroke="#4a4a4a" stroke-width="1"/>
<circle cx="866.61" cy="835.01" r="3.1" fill="none" stroke="#4a4a4a" stroke-width="1"/>
<circle cx="868.26" cy="836.66" r="3.1" fill="none" stroke="#4a4a4a" stroke-width="1"/>
<circle cx="869.92" cy="838.32" r="3.1" fill="none" stroke="#4a4a4a" stroke-width="1"/>
<circle cx="871.57" cy="839.37" r="3.1" fill="none" stroke="#4a4a4a" stroke-width="1"/>
<circle cx="873.22" cy="840.00" r="3.1" fill="none" stroke="#4a4a4a" stroke-width="1"/>
<circle cx="874.87" cy="840.63" r="3.1" fill="none" stroke="#4a4a4a" stroke-width="1"/>
<circle cx="876.52" cy="840.94" r="3.1" fill="none" stroke="#4a4a4a" stroke-width="1"/>
<circle cx="878.17" cy="840.30" r="3.1" fill="none" stroke="#4a4a4a" stroke-width="1"/>
<circle cx="879.82" cy="839.65" r="3.1" fill="none" stroke="#4a4a4a" stroke-width="1"/>
<circle cx="881.47" cy="839.01" r="3.1" fill="none" stroke="#4a4a4a" stroke-width="1"/>
<circle cx="883.12" cy="837.71" r="3.1" fill="none" stroke="#4a4a4a" stroke-width="1"/>
<circle cx="884.77" cy="836.38" r="3.1" fill="none" stroke="#4a4a4a" stroke-width="1"/>
<circle cx="886.42" cy="835.06" r="3.1" fill="none" stroke="#4a4a4a" stroke-width="1"/>
<circle cx="888.07" cy="833.53" r="3.1" fill="none" stroke="#4a4a4a" stroke-width="1"/>
<circle cx="889.72" cy="831.88" r="3.1" fill="none" stroke="#4a4a4a" stroke-width="1"/>
<circle cx="891.37" cy="830.23" r="3.1" fill="none" stroke="#4a4a4a" stroke-width="1"/>
<circle cx="893.02" cy="828.58" r="3.1" fill="none" stroke="#4a4a4a" stroke-width="1"/>
<circle cx="894.67" cy="826.93" r="3.1" fill="none" stroke="#4a4a4a" stroke-width="1"/>
<circle cx="896.32" cy="825.28" r="3.1" fill="none" stroke="#4a4a4a" stroke-width="1"/>
<circle cx="897.97" cy="823.63" r="3.1" fill="none" stroke="#4a4a4a" stroke-width="1"/>
<circle cx="899.62" cy="821.98" r="3.1" fill="none" stroke="#4a4a4a" stroke-width="1"/>
<circle cx="901.27" cy="820.33" r="3.1" fill="none" stroke="#4a4a4a" stroke-width="1"/>
<circle cx="902.92" cy="818.68" r="3.1" fill="none" stroke="#4a4a4a" stroke-width="1"/>
<circle cx="904.57" cy="817.03" r="3.1" fill="none" stroke="#4a4a4a" stroke-width="1"/>
<circle cx="906.22" cy="815.38" r="3.1" fill="none" stroke="#4a4a4a" stroke-width="1"/>
<circle cx="907.87" cy="814.17" r="3.1" fill="none" stroke="#4a4a4a" stroke-width="1"/>
<circle cx="909.53" cy="813.21" r="3.1" fill="none" stroke="#4a4a4a" stroke-width="1"/>
<circle cx="911.18" cy="812.24" r="3.1" fill="none" stroke="#4a4a4a" stroke-width="1"/>
<circle cx="912.83" cy="811.28" r="3.1" fill="none" stroke="#4a4a4a" stroke-width="1"/>
<circle cx="914.48" cy="810.89" r="3.1" fill="none" stroke="#4a4a4a" stroke-width="1"/>
<circle cx="916.13" cy="810.72" r="3.1" fill="none" stroke="#4a4a4a" stroke-width="1"/>
<circle cx="917.78" cy="810.90" r="3.1" fill="none" stroke="#4a4a4a" stroke-width="1"/>
<circle cx="919.43" cy="812.20" r="3.1" fill="none" stroke="#4a4a4a" stroke-width="1"/>
<circle cx="921.08" cy="813.50" r="3.1" fill="none" stroke="#4a4a4a" stroke-width="1"/>
<circle cx="922.73" cy="814.80" r="3.1" fill="none" stroke="#4a4a4a" stroke-width="1"/>
<circle cx="924.38" cy="816.08" r="3.1" fill="none" stroke="#4a4a4a" stroke-width="1"/>
<circle cx="926.03" cy="817.31" r="3.1" fill="none" stroke="#4a4a4a" stroke-width="1"/>
<circle cx="927.68" cy="818.53" r="3.1" fill="none" stroke="#4a4a4a" stroke-width="1"/>
<circle cx="929.33" cy="819.76" r="3.1" fill="none" stroke="#4a4a4a" stroke-width="1"/>
<circle cx="930.98" cy="820.99" r="3.1" fill="none" stroke="#4a4a4a" stroke-width="1"/>
<circle cx="932.63" cy="822.22" r="3.1" fill="none" stroke="#4a4a4a" stroke-width="1"/>
<circle cx="934.28" cy="823.45" r="3.1" fill="none" stroke="#4a4a4a" stroke-width="1"/>
<circle cx="935.93" cy="824.68" r="3.1" fill="none" stroke="#4a4a4a" stroke-width="1"/>
<circle cx="937.58" cy="825.91" r="3.1" fill="none" stroke="#4a4a4a" stroke-width="1"/>
<circle cx="939.23" cy="827.16" r="3.1" fill="none" stroke="#4a4a4a" stroke-width="1"/>
<circle cx="940.88" cy="828.41" r="3.1" fill="none" stroke="#4a4a4a" stroke-width="1"/>
<circle cx="942.53" cy="829.66" r="3.1" fill="none" stroke="#4a4a4a" stroke-width="1"/>
<circle cx="944.18" cy="830.91" r="3.1" fill="none" stroke="#4a4a4a" stroke-width="1"/>
<circle cx="945.83" cy="831.91" r="3.1" fill="none" stroke="#4a4a4a" stroke-width="1"/>
<circle cx="947.48" cy="832.62" r="3.1" fill="none" stroke="#4a4a4a" stroke-width="1"/>
<circle cx="949.14" cy="833.32" r="3.1" fill="none" stroke="#4a4a4a" stroke-width="1"/>
<circle cx="950.79" cy="834.02" r="3.1" fill="none" stroke="#4a4a4a" stroke-width="1"/>
<circle cx="952.44" cy="833.50" r="3.1" fill="none" stroke="#4a4a4a" stroke-width="1"/>
<circle cx="954.09" cy="832.57" r="3.1" fill="none" stroke="#4a4a4a" stroke-width="1"/>
<circle cx="955.74" cy="831.64" r="3.1" fill="none" stroke="#4a4a4a" stroke-width="1"/>
<circle cx="957.39" cy="830.71" r="3.1" fill="none" stroke="#4a4a4a" stroke-width="1"/>
<circle cx="959.04" cy="828.78" r="3.1" fill="none" stroke="#4a4a4a" stroke-width="1"/>
<circle cx="960.69" cy="826.84" r="3.1" fill="none" stroke="#4a4a4a" stroke-width="1"/>
<circle cx="962.34" cy="824.91" r="3.1" fill="none" stroke="#4a4a4a" stroke-width="1"/>
<circle cx="963.99" cy="821.78" r="3.1" fill="none" stroke="#4a4a4a" stroke-width="1"/>
<circle cx="965.64" cy="818.43" r="3.1" fill="none" stroke="#4a4a4a" stroke-width="1"/>
<circle cx="967.29" cy="815.15" r="3.1" fill="none" stroke="#4a4a4a" stroke-width="1"/>
<circle cx="968.94" cy="811.88" r="3.1" fill="none" stroke="#4a4a4a" stroke-width="1"/>
<circle cx="970.59" cy="808.62" r="3.1" fill="none" stroke="#4a4a4a" stroke-width="1"/>
<circle cx="972.24" cy="805.32" r="3.1" fill="none" stroke="#4a4a4a" stroke-width="1"/>
<circle cx="973.89" cy="802.02" r="3.1" fill="none" stroke="#4a4a4a" stroke-width="1"/>
<circle cx="975.54" cy="798.98" r="3.1" fill="none" stroke="#4a4a4a" stroke-width="1"/>
<circle cx="977.19" cy="796.35" r="3.1" fill="none" stroke="#4a4a4a" stroke-width="1"/>
<circle cx="978.84" cy="793.73" r="3.1" fill="none" stroke="#4a4a4a" stroke-width="1"/>
<circle cx="980.49" cy="791.10" r="3.1" fill="none" stroke="#4a4a4a" stroke-width="1"/>
<circle cx="982.14" cy="788.48" r="3.1" fill="none" stroke="#4a4a4a" stroke-width="1"/>
<circle cx="983.79" cy="785.90" r="3.1" fill="none" stroke="#4a4a4a" stroke-width="1"/>
<circle cx="985.44" cy="784.22" r="3.1" fill="none" stroke="#4a4a4a" stroke-width="1"/>
<circle cx="987.09" cy="782.54" r="3.1" fill="none" stroke="#4a4a4a" stroke-width="1"/>
<circle cx="988.75" cy="780.86" r="3.1" fill="none" stroke="#4a4a4a" stroke-width="1"/>
<circle cx="990.40" cy="779.71" r="3.1" fill="none" stroke="#4a4a4a" stroke-width="1"/>
<circle cx="992.05" cy="778.62" r="3.1" fill="none" stroke="#4a4a4a" stroke-width="1"/>
<circle cx="993.70" cy="777.53" r="3.1" fill="none" stroke="#4a4a4a" stroke-width="1"/>
<circle cx="995.35" cy="776.05" r="3.1" fill="none" stroke="#4a4a4a" stroke-width="1"/>
<circle cx="997.00" cy="774.21" r="3.1" fill="none" stroke="#4a4a4a" stroke-width="1"/>
<circle cx="999.00" cy="767.50" r="3.1" fill="none" stroke="#4a4a4a" stroke-width="1"/>
<circle cx="1000.40" cy="757.40" r="3.1" fill="none" stroke="#4a4a4a" stroke-width="1"/>
<circle cx="1002.10" cy="740.70" r="3.1" fill="none" stroke="#4a4a4a" stroke-width="1"/>
<circle cx="1003.90" cy="718.40" r="3.1" fill="none" stroke="#4a4a4a" stroke-width="1"/>
<text x="139.2" y="33" fill="#2e2e2e" font-size="26" lengthAdjust="spacingAndGlyphs" textLength="187.5">(a) Experiment</text>
<text x="145.6" y="517.8" fill="#2e2e2e" font-size="26" lengthAdjust="spacingAndGlyphs" textLength="189.5">(b) Calculation</text>
<text x="678.3" y="30.8" fill="#2e2e2e" font-size="26" lengthAdjust="spacingAndGlyphs" textLength="187.5">(c) Experiment</text>
<text x="679.6" y="480.8" fill="#2e2e2e" font-size="26" lengthAdjust="spacingAndGlyphs" textLength="189">(d) Calculation</text>
<text x="640.5" y="39" font-size="18.5" fill="#333" text-anchor="middle" textLength="24.5" lengthAdjust="spacing">(1)</text>
<text x="910.4" y="36.8" font-size="18.5" fill="#333" text-anchor="middle" textLength="24.5" lengthAdjust="spacing">(2)</text>
<text x="634.8" y="238.4" font-size="18.5" fill="#333" text-anchor="middle" textLength="24.5" lengthAdjust="spacing">(3)</text>
<text x="903.5" y="253.8" font-size="18.5" fill="#333" text-anchor="middle" textLength="24.5" lengthAdjust="spacing">(4)</text>
<text x="637.5" y="480.5" font-size="18.5" fill="#333" text-anchor="middle" textLength="24.5" lengthAdjust="spacing">(1)</text>
<text x="908.8" y="482.7" font-size="18.5" fill="#333" text-anchor="middle" textLength="24.5" lengthAdjust="spacing">(2)</text>
<text x="633.2" y="692.8" font-size="18.5" fill="#333" text-anchor="middle" textLength="24.5" lengthAdjust="spacing">(3)</text>
<text x="912" y="693.4" font-size="18.5" fill="#333" text-anchor="middle" textLength="24.5" lengthAdjust="spacing">(4)</text>
<text transform="translate(478.5,350.3) rotate(-90)" font-size="21.7" fill="#2a2a2a" lengthAdjust="spacingAndGlyphs" textLength="173">Decay rates (1/s)</text>
<text x="746.4" y="448.7" font-size="21.7" fill="#2a2a2a" lengthAdjust="spacingAndGlyphs" textLength="66.5">Voxels</text>
<text x="745" y="904.5" font-size="21.2" fill="#2a2a2a" lengthAdjust="spacingAndGlyphs" textLength="67.5">Voxels</text>
<text transform="translate(485.5,731) rotate(-90)" font-size="22" fill="#2a2a2a" lengthAdjust="spacingAndGlyphs" textLength="193">(Gradient strength)</text>
<text transform="translate(472.2,532) rotate(-90)" font-size="23" fill="#262626">2</text>
<text transform="translate(22.4,842.6) rotate(-90)" font-size="22" fill="#2a2a2a" lengthAdjust="spacingAndGlyphs" textLength="704">Comparison between experimental decay rates and theoretical gradient strength</text>
</svg></body></html>
